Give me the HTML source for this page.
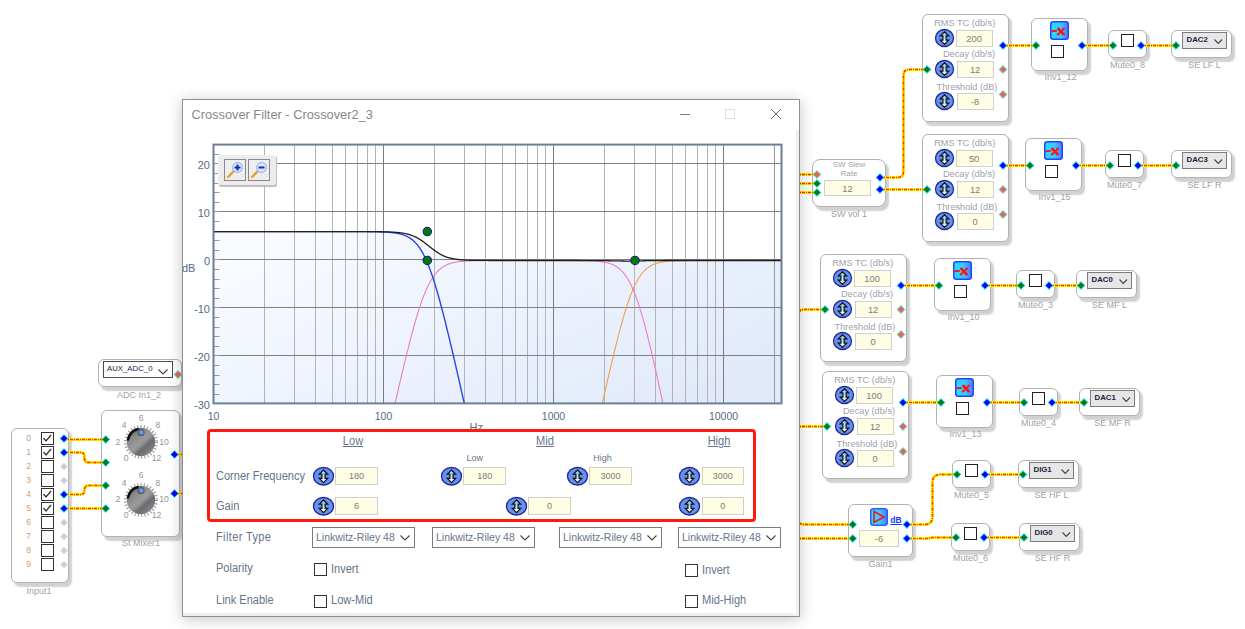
<!DOCTYPE html>
<html><head><meta charset="utf-8"><style>
html,body{margin:0;padding:0;background:#fff;}
body{width:1245px;height:629px;overflow:hidden;position:relative;font-family:"Liberation Sans", sans-serif;}
.ab{position:absolute;}
.t{position:absolute;white-space:nowrap;}
.blk{position:absolute;box-sizing:border-box;background:#fff;border:1px solid #b2b2b2;border-radius:6px;box-shadow:3px 3.5px 1.5px rgba(0,0,0,0.18);}
.vb{position:absolute;box-sizing:border-box;background:#fffde4;border:1.5px solid #cfcfcf;text-align:center;color:#7c7c7c;}
.dd{position:absolute;border:1px solid #777;overflow:hidden;}
svg{overflow:visible;}
.wy{fill:none;stroke:#ffff00;stroke-width:3;}
.wr{fill:none;stroke:#ff2a00;stroke-width:1.6;stroke-dasharray:3 1 1 1;}
</style></head><body>
<svg width="0" height="0" style="position:absolute"><defs>
<linearGradient id="sg" x1="0" y1="0" x2="0" y2="1"><stop offset="0" stop-color="#7fc8ff"/><stop offset="1" stop-color="#ffffff"/></linearGradient>
<linearGradient id="ig" x1="0" y1="0" x2="1" y2="0"><stop offset="0" stop-color="#20e0ff"/><stop offset="0.55" stop-color="#3cc8ff"/><stop offset="1" stop-color="#4a7cff"/></linearGradient>
<linearGradient id="kl" x1="0.15" y1="0.1" x2="0.85" y2="0.9"><stop offset="0" stop-color="#4a4a4a"/><stop offset="0.18" stop-color="#868686"/><stop offset="0.5" stop-color="#9c9c9c"/><stop offset="0.6" stop-color="#8c8c8c"/><stop offset="0.7" stop-color="#6a6a72"/><stop offset="0.9" stop-color="#7a7a80"/><stop offset="1" stop-color="#a8a8a8"/></linearGradient>
<radialGradient id="kg" cx="0.65" cy="0.3" r="0.85"><stop offset="0" stop-color="#a8a8a8"/><stop offset="0.5" stop-color="#6a6a6a"/><stop offset="1" stop-color="#1e1e1e"/></radialGradient>
</defs></svg>
<div class="blk" style="left:11px;top:428px;width:58px;height:155px;"></div>
<div class="t" style="left:-21px;top:582px;width:120px;height:18px;line-height:18px;text-align:center;font-size:9px;color:#a0a2aa;font-weight:normal;">Input1</div>
<div class="t" style="left:-31.3px;top:430.4px;width:120px;height:17.0px;line-height:17.0px;text-align:center;font-size:8.5px;color:#9aa4b4;font-weight:normal;">0</div>
<svg class="ab" style="left:41px;top:432.4px" width="13" height="13"><rect x="0.5" y="0.5" width="12" height="12" fill="#fff" stroke="#333" stroke-width="1"/><path d="M2.5,6.0 L5.04,9 L10,3" fill="none" stroke="#333" stroke-width="1.3"/></svg>
<div class="t" style="left:-31.3px;top:444.4px;width:120px;height:17.0px;line-height:17.0px;text-align:center;font-size:8.5px;color:#9aa4b4;font-weight:normal;">1</div>
<svg class="ab" style="left:41px;top:446.4px" width="13" height="13"><rect x="0.5" y="0.5" width="12" height="12" fill="#fff" stroke="#333" stroke-width="1"/><path d="M2.5,6.0 L5.04,9 L10,3" fill="none" stroke="#333" stroke-width="1.3"/></svg>
<div class="t" style="left:-31.3px;top:458.4px;width:120px;height:17.0px;line-height:17.0px;text-align:center;font-size:8.5px;color:#dc9a64;font-weight:normal;">2</div>
<svg class="ab" style="left:41px;top:460.4px" width="13" height="13"><rect x="0.5" y="0.5" width="12" height="12" fill="#fff" stroke="#333" stroke-width="1"/></svg>
<div class="t" style="left:-31.3px;top:472.4px;width:120px;height:17.0px;line-height:17.0px;text-align:center;font-size:8.5px;color:#dc9a64;font-weight:normal;">3</div>
<svg class="ab" style="left:41px;top:474.4px" width="13" height="13"><rect x="0.5" y="0.5" width="12" height="12" fill="#fff" stroke="#333" stroke-width="1"/></svg>
<div class="t" style="left:-31.3px;top:486.4px;width:120px;height:17.0px;line-height:17.0px;text-align:center;font-size:8.5px;color:#dc9a64;font-weight:normal;">4</div>
<svg class="ab" style="left:41px;top:488.4px" width="13" height="13"><rect x="0.5" y="0.5" width="12" height="12" fill="#fff" stroke="#333" stroke-width="1"/><path d="M2.5,6.0 L5.04,9 L10,3" fill="none" stroke="#333" stroke-width="1.3"/></svg>
<div class="t" style="left:-31.3px;top:500.4px;width:120px;height:17.0px;line-height:17.0px;text-align:center;font-size:8.5px;color:#dc9a64;font-weight:normal;">5</div>
<svg class="ab" style="left:41px;top:502.4px" width="13" height="13"><rect x="0.5" y="0.5" width="12" height="12" fill="#fff" stroke="#333" stroke-width="1"/><path d="M2.5,6.0 L5.04,9 L10,3" fill="none" stroke="#333" stroke-width="1.3"/></svg>
<div class="t" style="left:-31.3px;top:514.4px;width:120px;height:17.0px;line-height:17.0px;text-align:center;font-size:8.5px;color:#dc9a64;font-weight:normal;">6</div>
<svg class="ab" style="left:41px;top:516.4px" width="13" height="13"><rect x="0.5" y="0.5" width="12" height="12" fill="#fff" stroke="#333" stroke-width="1"/></svg>
<div class="t" style="left:-31.3px;top:528.4px;width:120px;height:17.0px;line-height:17.0px;text-align:center;font-size:8.5px;color:#dc9a64;font-weight:normal;">7</div>
<svg class="ab" style="left:41px;top:530.4px" width="13" height="13"><rect x="0.5" y="0.5" width="12" height="12" fill="#fff" stroke="#333" stroke-width="1"/></svg>
<div class="t" style="left:-31.3px;top:542.4px;width:120px;height:17.0px;line-height:17.0px;text-align:center;font-size:8.5px;color:#dc9a64;font-weight:normal;">8</div>
<svg class="ab" style="left:41px;top:544.4px" width="13" height="13"><rect x="0.5" y="0.5" width="12" height="12" fill="#fff" stroke="#333" stroke-width="1"/></svg>
<div class="t" style="left:-31.3px;top:556.4px;width:120px;height:17.0px;line-height:17.0px;text-align:center;font-size:8.5px;color:#dc9a64;font-weight:normal;">9</div>
<svg class="ab" style="left:41px;top:558.4px" width="13" height="13"><rect x="0.5" y="0.5" width="12" height="12" fill="#fff" stroke="#333" stroke-width="1"/></svg>
<div class="blk" style="left:98px;top:359px;width:84px;height:28px;"></div>
<div class="t" style="left:79px;top:385.5px;width:120px;height:18px;line-height:18px;text-align:center;font-size:9px;color:#a0a2aa;font-weight:normal;">ADC In1_2</div>
<div class="dd" style="left:103px;top:361px;width:68px;height:15px;background:#fff;border-color:#4a4a4a"><span style="position:absolute;left:3px;top:0;line-height:13px;font-size:7.8px;color:#1a1a4a">AUX_ADC_0</span><svg style="position:absolute;right:4px;top:7px" width="10" height="6"><path d="M0.5,0.5 L5,5 L9.5,0.5" fill="none" stroke="#444" stroke-width="1.1"/></svg></div>
<div class="blk" style="left:101px;top:410px;width:79px;height:127px;"></div>
<div class="t" style="left:81px;top:534px;width:120px;height:18px;line-height:18px;text-align:center;font-size:9px;color:#a0a2aa;font-weight:normal;">St Mixer1</div>
<svg class="ab" style="left:119.19999999999999px;top:420.2px" width="44" height="44" viewBox="-22 -22 44 44"><circle r="15.6" fill="none" stroke="#9a9a9a" stroke-width="2.8" stroke-dasharray="1.1 2.2"/><circle r="14.2" fill="url(#kl)"/><path d="M-13,-2.5 A13.3,13.3 0 0 1 -3.5,-12.8" fill="none" stroke="#111" stroke-width="2.6" stroke-linecap="round"/><circle cx="0" cy="-9.6" r="3.6" fill="#5c5c5c"/><circle cx="0.3" cy="-9.6" r="2.2" fill="#5a9cff"/></svg>
<div class="t" style="left:66.19999999999999px;top:449.7px;width:120px;height:17.2px;line-height:17.2px;text-align:center;font-size:8.6px;color:#949494;font-weight:normal;">0</div>
<div class="t" style="left:57.79999999999998px;top:433.59999999999997px;width:120px;height:17.2px;line-height:17.2px;text-align:center;font-size:8.6px;color:#949494;font-weight:normal;">2</div>
<div class="t" style="left:64.19999999999999px;top:416.9px;width:120px;height:17.2px;line-height:17.2px;text-align:center;font-size:8.6px;color:#949494;font-weight:normal;">4</div>
<div class="t" style="left:81.19999999999999px;top:409.7px;width:120px;height:17.2px;line-height:17.2px;text-align:center;font-size:8.6px;color:#949494;font-weight:normal;">6</div>
<div class="t" style="left:97.79999999999998px;top:416.9px;width:120px;height:17.2px;line-height:17.2px;text-align:center;font-size:8.6px;color:#949494;font-weight:normal;">8</div>
<div class="t" style="left:104.0px;top:433.59999999999997px;width:120px;height:17.2px;line-height:17.2px;text-align:center;font-size:8.6px;color:#949494;font-weight:normal;">10</div>
<div class="t" style="left:96.5px;top:449.7px;width:120px;height:17.2px;line-height:17.2px;text-align:center;font-size:8.6px;color:#949494;font-weight:normal;">12</div>
<svg class="ab" style="left:119.19999999999999px;top:477.8px" width="44" height="44" viewBox="-22 -22 44 44"><circle r="15.6" fill="none" stroke="#9a9a9a" stroke-width="2.8" stroke-dasharray="1.1 2.2"/><circle r="14.2" fill="url(#kl)"/><path d="M-13,-2.5 A13.3,13.3 0 0 1 -3.5,-12.8" fill="none" stroke="#111" stroke-width="2.6" stroke-linecap="round"/><circle cx="0" cy="-9.6" r="3.6" fill="#5c5c5c"/><circle cx="0.3" cy="-9.6" r="2.2" fill="#5a9cff"/></svg>
<div class="t" style="left:66.19999999999999px;top:507.29999999999995px;width:120px;height:17.2px;line-height:17.2px;text-align:center;font-size:8.6px;color:#949494;font-weight:normal;">0</div>
<div class="t" style="left:57.79999999999998px;top:491.2px;width:120px;height:17.2px;line-height:17.2px;text-align:center;font-size:8.6px;color:#949494;font-weight:normal;">2</div>
<div class="t" style="left:64.19999999999999px;top:474.5px;width:120px;height:17.2px;line-height:17.2px;text-align:center;font-size:8.6px;color:#949494;font-weight:normal;">4</div>
<div class="t" style="left:81.19999999999999px;top:467.3px;width:120px;height:17.2px;line-height:17.2px;text-align:center;font-size:8.6px;color:#949494;font-weight:normal;">6</div>
<div class="t" style="left:97.79999999999998px;top:474.5px;width:120px;height:17.2px;line-height:17.2px;text-align:center;font-size:8.6px;color:#949494;font-weight:normal;">8</div>
<div class="t" style="left:104.0px;top:491.2px;width:120px;height:17.2px;line-height:17.2px;text-align:center;font-size:8.6px;color:#949494;font-weight:normal;">10</div>
<div class="t" style="left:96.5px;top:507.29999999999995px;width:120px;height:17.2px;line-height:17.2px;text-align:center;font-size:8.6px;color:#949494;font-weight:normal;">12</div>
<div class="blk" style="left:812px;top:159px;width:74px;height:48px;border-radius:8px;"></div>
<div class="t" style="left:789px;top:157px;width:120px;height:16px;line-height:16px;text-align:center;font-size:8px;color:#a0a2aa;font-weight:normal;">SW Slew</div>
<div class="t" style="left:789px;top:166px;width:120px;height:16px;line-height:16px;text-align:center;font-size:8px;color:#a0a2aa;font-weight:normal;">Rate</div>
<div class="vb" style="left:824px;top:179.5px;width:47px;height:16.5px;line-height:16.5px;font-size:9.3px">12</div>
<div class="t" style="left:789px;top:204.5px;width:120px;height:18px;line-height:18px;text-align:center;font-size:9px;color:#a0a2aa;font-weight:normal;">SW vol 1</div>
<div class="blk" style="left:922px;top:14px;width:87px;height:108px;"></div>
<div class="t" style="left:904.7px;top:14.0px;width:120px;height:18.4px;line-height:18.4px;text-align:center;font-size:9.2px;color:#a0a2aa;font-weight:normal;">RMS TC (db/s)</div>
<div class="t" style="left:909px;top:45.0px;width:120px;height:18.4px;line-height:18.4px;text-align:center;font-size:9.2px;color:#a0a2aa;font-weight:normal;">Decay (db/s)</div>
<div class="t" style="left:907px;top:77.8px;width:120px;height:18.4px;line-height:18.4px;text-align:center;font-size:9.2px;color:#a0a2aa;font-weight:normal;">Threshold (dB)</div>
<svg class="ab" style="left:933.8px;top:28.299999999999997px" width="21" height="20" viewBox="-10.5 -10.0 21 20"><ellipse cx="0" cy="0" rx="9.0" ry="8.5" fill="#6792ea" stroke="#1c24a0" stroke-width="1.3"/><path d="M0,-6.2 L4.2,-2.1 L1.6,-2.1 L1.6,2.1 L4.2,2.1 L0,6.3 L-4.2,2.1 L-1.6,2.1 L-1.6,-2.1 L-4.2,-2.1 Z" fill="url(#sg)" stroke="#111" stroke-width="1.2" stroke-linejoin="miter"/></svg>
<div class="vb" style="left:955.6px;top:29.699999999999996px;width:37px;height:17px;line-height:17px;font-size:9.3px">200</div>
<svg class="ab" style="left:934.4px;top:59.400000000000006px" width="21" height="20" viewBox="-10.5 -10.0 21 20"><ellipse cx="0" cy="0" rx="9.0" ry="8.5" fill="#6792ea" stroke="#1c24a0" stroke-width="1.3"/><path d="M0,-6.2 L4.2,-2.1 L1.6,-2.1 L1.6,2.1 L4.2,2.1 L0,6.3 L-4.2,2.1 L-1.6,2.1 L-1.6,-2.1 L-4.2,-2.1 Z" fill="url(#sg)" stroke="#111" stroke-width="1.2" stroke-linejoin="miter"/></svg>
<div class="vb" style="left:956.6px;top:60.800000000000004px;width:37px;height:17px;line-height:17px;font-size:9.3px">12</div>
<svg class="ab" style="left:934.4px;top:91.4px" width="21" height="20" viewBox="-10.5 -10.0 21 20"><ellipse cx="0" cy="0" rx="9.0" ry="8.5" fill="#6792ea" stroke="#1c24a0" stroke-width="1.3"/><path d="M0,-6.2 L4.2,-2.1 L1.6,-2.1 L1.6,2.1 L4.2,2.1 L0,6.3 L-4.2,2.1 L-1.6,2.1 L-1.6,-2.1 L-4.2,-2.1 Z" fill="url(#sg)" stroke="#111" stroke-width="1.2" stroke-linejoin="miter"/></svg>
<div class="vb" style="left:956.6px;top:92.80000000000001px;width:37px;height:17px;line-height:17px;font-size:9.3px">-8</div>
<div class="blk" style="left:922px;top:134px;width:87px;height:108px;"></div>
<div class="t" style="left:904.7px;top:134.0px;width:120px;height:18.4px;line-height:18.4px;text-align:center;font-size:9.2px;color:#a0a2aa;font-weight:normal;">RMS TC (db/s)</div>
<div class="t" style="left:909px;top:165.0px;width:120px;height:18.4px;line-height:18.4px;text-align:center;font-size:9.2px;color:#a0a2aa;font-weight:normal;">Decay (db/s)</div>
<div class="t" style="left:907px;top:197.8px;width:120px;height:18.4px;line-height:18.4px;text-align:center;font-size:9.2px;color:#a0a2aa;font-weight:normal;">Threshold (dB)</div>
<svg class="ab" style="left:933.8px;top:148.3px" width="21" height="20" viewBox="-10.5 -10.0 21 20"><ellipse cx="0" cy="0" rx="9.0" ry="8.5" fill="#6792ea" stroke="#1c24a0" stroke-width="1.3"/><path d="M0,-6.2 L4.2,-2.1 L1.6,-2.1 L1.6,2.1 L4.2,2.1 L0,6.3 L-4.2,2.1 L-1.6,2.1 L-1.6,-2.1 L-4.2,-2.1 Z" fill="url(#sg)" stroke="#111" stroke-width="1.2" stroke-linejoin="miter"/></svg>
<div class="vb" style="left:955.6px;top:149.70000000000002px;width:37px;height:17px;line-height:17px;font-size:9.3px">50</div>
<svg class="ab" style="left:934.4px;top:179.4px" width="21" height="20" viewBox="-10.5 -10.0 21 20"><ellipse cx="0" cy="0" rx="9.0" ry="8.5" fill="#6792ea" stroke="#1c24a0" stroke-width="1.3"/><path d="M0,-6.2 L4.2,-2.1 L1.6,-2.1 L1.6,2.1 L4.2,2.1 L0,6.3 L-4.2,2.1 L-1.6,2.1 L-1.6,-2.1 L-4.2,-2.1 Z" fill="url(#sg)" stroke="#111" stroke-width="1.2" stroke-linejoin="miter"/></svg>
<div class="vb" style="left:956.6px;top:180.8px;width:37px;height:17px;line-height:17px;font-size:9.3px">12</div>
<svg class="ab" style="left:934.4px;top:211.4px" width="21" height="20" viewBox="-10.5 -10.0 21 20"><ellipse cx="0" cy="0" rx="9.0" ry="8.5" fill="#6792ea" stroke="#1c24a0" stroke-width="1.3"/><path d="M0,-6.2 L4.2,-2.1 L1.6,-2.1 L1.6,2.1 L4.2,2.1 L0,6.3 L-4.2,2.1 L-1.6,2.1 L-1.6,-2.1 L-4.2,-2.1 Z" fill="url(#sg)" stroke="#111" stroke-width="1.2" stroke-linejoin="miter"/></svg>
<div class="vb" style="left:956.6px;top:212.8px;width:37px;height:17px;line-height:17px;font-size:9.3px">0</div>
<div class="blk" style="left:820px;top:254px;width:87px;height:108px;"></div>
<div class="t" style="left:802.7px;top:254.0px;width:120px;height:18.4px;line-height:18.4px;text-align:center;font-size:9.2px;color:#a0a2aa;font-weight:normal;">RMS TC (db/s)</div>
<div class="t" style="left:807px;top:285.0px;width:120px;height:18.4px;line-height:18.4px;text-align:center;font-size:9.2px;color:#a0a2aa;font-weight:normal;">Decay (db/s)</div>
<div class="t" style="left:805px;top:317.8px;width:120px;height:18.4px;line-height:18.4px;text-align:center;font-size:9.2px;color:#a0a2aa;font-weight:normal;">Threshold (dB)</div>
<svg class="ab" style="left:831.8px;top:268.3px" width="21" height="20" viewBox="-10.5 -10.0 21 20"><ellipse cx="0" cy="0" rx="9.0" ry="8.5" fill="#6792ea" stroke="#1c24a0" stroke-width="1.3"/><path d="M0,-6.2 L4.2,-2.1 L1.6,-2.1 L1.6,2.1 L4.2,2.1 L0,6.3 L-4.2,2.1 L-1.6,2.1 L-1.6,-2.1 L-4.2,-2.1 Z" fill="url(#sg)" stroke="#111" stroke-width="1.2" stroke-linejoin="miter"/></svg>
<div class="vb" style="left:853.6px;top:269.7px;width:37px;height:17px;line-height:17px;font-size:9.3px">100</div>
<svg class="ab" style="left:832.4px;top:299.4px" width="21" height="20" viewBox="-10.5 -10.0 21 20"><ellipse cx="0" cy="0" rx="9.0" ry="8.5" fill="#6792ea" stroke="#1c24a0" stroke-width="1.3"/><path d="M0,-6.2 L4.2,-2.1 L1.6,-2.1 L1.6,2.1 L4.2,2.1 L0,6.3 L-4.2,2.1 L-1.6,2.1 L-1.6,-2.1 L-4.2,-2.1 Z" fill="url(#sg)" stroke="#111" stroke-width="1.2" stroke-linejoin="miter"/></svg>
<div class="vb" style="left:854.6px;top:300.79999999999995px;width:37px;height:17px;line-height:17px;font-size:9.3px">12</div>
<svg class="ab" style="left:832.4px;top:331.4px" width="21" height="20" viewBox="-10.5 -10.0 21 20"><ellipse cx="0" cy="0" rx="9.0" ry="8.5" fill="#6792ea" stroke="#1c24a0" stroke-width="1.3"/><path d="M0,-6.2 L4.2,-2.1 L1.6,-2.1 L1.6,2.1 L4.2,2.1 L0,6.3 L-4.2,2.1 L-1.6,2.1 L-1.6,-2.1 L-4.2,-2.1 Z" fill="url(#sg)" stroke="#111" stroke-width="1.2" stroke-linejoin="miter"/></svg>
<div class="vb" style="left:854.6px;top:332.79999999999995px;width:37px;height:17px;line-height:17px;font-size:9.3px">0</div>
<div class="blk" style="left:822px;top:371px;width:87px;height:108px;"></div>
<div class="t" style="left:804.7px;top:371.0px;width:120px;height:18.4px;line-height:18.4px;text-align:center;font-size:9.2px;color:#a0a2aa;font-weight:normal;">RMS TC (db/s)</div>
<div class="t" style="left:809px;top:402.0px;width:120px;height:18.4px;line-height:18.4px;text-align:center;font-size:9.2px;color:#a0a2aa;font-weight:normal;">Decay (db/s)</div>
<div class="t" style="left:807px;top:434.8px;width:120px;height:18.4px;line-height:18.4px;text-align:center;font-size:9.2px;color:#a0a2aa;font-weight:normal;">Threshold (dB)</div>
<svg class="ab" style="left:833.8px;top:385.3px" width="21" height="20" viewBox="-10.5 -10.0 21 20"><ellipse cx="0" cy="0" rx="9.0" ry="8.5" fill="#6792ea" stroke="#1c24a0" stroke-width="1.3"/><path d="M0,-6.2 L4.2,-2.1 L1.6,-2.1 L1.6,2.1 L4.2,2.1 L0,6.3 L-4.2,2.1 L-1.6,2.1 L-1.6,-2.1 L-4.2,-2.1 Z" fill="url(#sg)" stroke="#111" stroke-width="1.2" stroke-linejoin="miter"/></svg>
<div class="vb" style="left:855.6px;top:386.7px;width:37px;height:17px;line-height:17px;font-size:9.3px">100</div>
<svg class="ab" style="left:834.4px;top:416.4px" width="21" height="20" viewBox="-10.5 -10.0 21 20"><ellipse cx="0" cy="0" rx="9.0" ry="8.5" fill="#6792ea" stroke="#1c24a0" stroke-width="1.3"/><path d="M0,-6.2 L4.2,-2.1 L1.6,-2.1 L1.6,2.1 L4.2,2.1 L0,6.3 L-4.2,2.1 L-1.6,2.1 L-1.6,-2.1 L-4.2,-2.1 Z" fill="url(#sg)" stroke="#111" stroke-width="1.2" stroke-linejoin="miter"/></svg>
<div class="vb" style="left:856.6px;top:417.79999999999995px;width:37px;height:17px;line-height:17px;font-size:9.3px">12</div>
<svg class="ab" style="left:834.4px;top:448.4px" width="21" height="20" viewBox="-10.5 -10.0 21 20"><ellipse cx="0" cy="0" rx="9.0" ry="8.5" fill="#6792ea" stroke="#1c24a0" stroke-width="1.3"/><path d="M0,-6.2 L4.2,-2.1 L1.6,-2.1 L1.6,2.1 L4.2,2.1 L0,6.3 L-4.2,2.1 L-1.6,2.1 L-1.6,-2.1 L-4.2,-2.1 Z" fill="url(#sg)" stroke="#111" stroke-width="1.2" stroke-linejoin="miter"/></svg>
<div class="vb" style="left:856.6px;top:449.79999999999995px;width:37px;height:17px;line-height:17px;font-size:9.3px">0</div>
<div class="blk" style="left:1031px;top:18px;width:57px;height:53px;"></div>
<svg class="ab" style="left:1049.6px;top:20.8px" width="19" height="19"><rect x="0.75" y="0.75" width="17.5" height="17.5" rx="2.5" fill="url(#ig)" stroke="#2244ff" stroke-width="1.5"/><path d="M1.4,10.2 L6.8,9.9" stroke="#ff1010" stroke-width="1.9"/><path d="M8,7.6 L13.8,13.4" stroke="#ff1010" stroke-width="2.6"/><path d="M14.2,7.6 L7.8,13.4" stroke="#ff1010" stroke-width="1.8"/><path d="M7.2,7.4 H10 M12.4,7.4 H15.2 M6.6,13.6 H9.4 M12,13.6 H15" stroke="#ff1010" stroke-width="1.1"/></svg>
<svg class="ab" style="left:1051px;top:45px" width="13" height="13"><rect x="0.5" y="0.5" width="12" height="12" fill="#fff" stroke="#222" stroke-width="1"/></svg>
<div class="t" style="left:1000.5px;top:68.3px;width:120px;height:18px;line-height:18px;text-align:center;font-size:9px;color:#a0a2aa;font-weight:normal;">Inv1_12</div>
<div class="blk" style="left:1025px;top:138px;width:57px;height:53px;"></div>
<svg class="ab" style="left:1043.6px;top:140.8px" width="19" height="19"><rect x="0.75" y="0.75" width="17.5" height="17.5" rx="2.5" fill="url(#ig)" stroke="#2244ff" stroke-width="1.5"/><path d="M1.4,10.2 L6.8,9.9" stroke="#ff1010" stroke-width="1.9"/><path d="M8,7.6 L13.8,13.4" stroke="#ff1010" stroke-width="2.6"/><path d="M14.2,7.6 L7.8,13.4" stroke="#ff1010" stroke-width="1.8"/><path d="M7.2,7.4 H10 M12.4,7.4 H15.2 M6.6,13.6 H9.4 M12,13.6 H15" stroke="#ff1010" stroke-width="1.1"/></svg>
<svg class="ab" style="left:1045px;top:165px" width="13" height="13"><rect x="0.5" y="0.5" width="12" height="12" fill="#fff" stroke="#222" stroke-width="1"/></svg>
<div class="t" style="left:994.5px;top:188.3px;width:120px;height:18px;line-height:18px;text-align:center;font-size:9px;color:#a0a2aa;font-weight:normal;">Inv1_15</div>
<div class="blk" style="left:934px;top:258px;width:57px;height:53px;"></div>
<svg class="ab" style="left:952.6px;top:260.8px" width="19" height="19"><rect x="0.75" y="0.75" width="17.5" height="17.5" rx="2.5" fill="url(#ig)" stroke="#2244ff" stroke-width="1.5"/><path d="M1.4,10.2 L6.8,9.9" stroke="#ff1010" stroke-width="1.9"/><path d="M8,7.6 L13.8,13.4" stroke="#ff1010" stroke-width="2.6"/><path d="M14.2,7.6 L7.8,13.4" stroke="#ff1010" stroke-width="1.8"/><path d="M7.2,7.4 H10 M12.4,7.4 H15.2 M6.6,13.6 H9.4 M12,13.6 H15" stroke="#ff1010" stroke-width="1.1"/></svg>
<svg class="ab" style="left:954px;top:285px" width="13" height="13"><rect x="0.5" y="0.5" width="12" height="12" fill="#fff" stroke="#222" stroke-width="1"/></svg>
<div class="t" style="left:903.5px;top:308.3px;width:120px;height:18px;line-height:18px;text-align:center;font-size:9px;color:#a0a2aa;font-weight:normal;">Inv1_10</div>
<div class="blk" style="left:936px;top:375px;width:57px;height:53px;"></div>
<svg class="ab" style="left:954.6px;top:377.8px" width="19" height="19"><rect x="0.75" y="0.75" width="17.5" height="17.5" rx="2.5" fill="url(#ig)" stroke="#2244ff" stroke-width="1.5"/><path d="M1.4,10.2 L6.8,9.9" stroke="#ff1010" stroke-width="1.9"/><path d="M8,7.6 L13.8,13.4" stroke="#ff1010" stroke-width="2.6"/><path d="M14.2,7.6 L7.8,13.4" stroke="#ff1010" stroke-width="1.8"/><path d="M7.2,7.4 H10 M12.4,7.4 H15.2 M6.6,13.6 H9.4 M12,13.6 H15" stroke="#ff1010" stroke-width="1.1"/></svg>
<svg class="ab" style="left:956px;top:402px" width="13" height="13"><rect x="0.5" y="0.5" width="12" height="12" fill="#fff" stroke="#222" stroke-width="1"/></svg>
<div class="t" style="left:905.5px;top:425.3px;width:120px;height:18px;line-height:18px;text-align:center;font-size:9px;color:#a0a2aa;font-weight:normal;">Inv1_13</div>
<div class="blk" style="left:1108px;top:30px;width:39px;height:28px;"></div>
<svg class="ab" style="left:1121px;top:34px" width="13" height="13"><rect x="0.5" y="0.5" width="12" height="12" fill="#fff" stroke="#222" stroke-width="1"/></svg>
<div class="t" style="left:1067.5px;top:56px;width:120px;height:18px;line-height:18px;text-align:center;font-size:9px;color:#a0a2aa;font-weight:normal;">Mute0_8</div>
<div class="blk" style="left:1171px;top:30px;width:61px;height:28px;"></div>
<div class="dd" style="left:1182px;top:32px;width:43px;height:15px;background:#e6e6e6;border:1px solid #7c7c7c"><span style="position:absolute;left:3.5px;top:-0.3px;line-height:13px;font-size:7.8px;font-weight:bold;color:#1c1c40">DAC2</span><svg style="position:absolute;right:4px;top:6.45px" width="8.5" height="5.5"><path d="M0.5,0.5 L4.25,4.5 L8.0,0.5" fill="none" stroke="#444" stroke-width="1.1"/></svg></div>
<div class="t" style="left:1144.5px;top:55.5px;width:120px;height:18px;line-height:18px;text-align:center;font-size:9px;color:#a0a2aa;font-weight:normal;">SE LF L</div>
<div class="blk" style="left:1105px;top:150px;width:39px;height:28px;"></div>
<svg class="ab" style="left:1118px;top:154px" width="13" height="13"><rect x="0.5" y="0.5" width="12" height="12" fill="#fff" stroke="#222" stroke-width="1"/></svg>
<div class="t" style="left:1064.5px;top:176px;width:120px;height:18px;line-height:18px;text-align:center;font-size:9px;color:#a0a2aa;font-weight:normal;">Mute0_7</div>
<div class="blk" style="left:1171px;top:150px;width:61px;height:28px;"></div>
<div class="dd" style="left:1182px;top:152px;width:43px;height:15px;background:#e6e6e6;border:1px solid #7c7c7c"><span style="position:absolute;left:3.5px;top:-0.3px;line-height:13px;font-size:7.8px;font-weight:bold;color:#1c1c40">DAC3</span><svg style="position:absolute;right:4px;top:6.45px" width="8.5" height="5.5"><path d="M0.5,0.5 L4.25,4.5 L8.0,0.5" fill="none" stroke="#444" stroke-width="1.1"/></svg></div>
<div class="t" style="left:1144.5px;top:175.5px;width:120px;height:18px;line-height:18px;text-align:center;font-size:9px;color:#a0a2aa;font-weight:normal;">SE LF R</div>
<div class="blk" style="left:1016px;top:270px;width:39px;height:28px;"></div>
<svg class="ab" style="left:1029px;top:274px" width="13" height="13"><rect x="0.5" y="0.5" width="12" height="12" fill="#fff" stroke="#222" stroke-width="1"/></svg>
<div class="t" style="left:975.5px;top:296px;width:120px;height:18px;line-height:18px;text-align:center;font-size:9px;color:#a0a2aa;font-weight:normal;">Mute0_3</div>
<div class="blk" style="left:1076px;top:270px;width:61px;height:28px;"></div>
<div class="dd" style="left:1087px;top:272px;width:43px;height:15px;background:#e6e6e6;border:1px solid #7c7c7c"><span style="position:absolute;left:3.5px;top:-0.3px;line-height:13px;font-size:7.8px;font-weight:bold;color:#1c1c40">DAC0</span><svg style="position:absolute;right:4px;top:6.45px" width="8.5" height="5.5"><path d="M0.5,0.5 L4.25,4.5 L8.0,0.5" fill="none" stroke="#444" stroke-width="1.1"/></svg></div>
<div class="t" style="left:1049.5px;top:295.5px;width:120px;height:18px;line-height:18px;text-align:center;font-size:9px;color:#a0a2aa;font-weight:normal;">SE MF L</div>
<div class="blk" style="left:1019px;top:388px;width:39px;height:28px;"></div>
<svg class="ab" style="left:1032px;top:392px" width="13" height="13"><rect x="0.5" y="0.5" width="12" height="12" fill="#fff" stroke="#222" stroke-width="1"/></svg>
<div class="t" style="left:978.5px;top:414px;width:120px;height:18px;line-height:18px;text-align:center;font-size:9px;color:#a0a2aa;font-weight:normal;">Mute0_4</div>
<div class="blk" style="left:1079px;top:388px;width:61px;height:28px;"></div>
<div class="dd" style="left:1090px;top:390px;width:43px;height:15px;background:#e6e6e6;border:1px solid #7c7c7c"><span style="position:absolute;left:3.5px;top:-0.3px;line-height:13px;font-size:7.8px;font-weight:bold;color:#1c1c40">DAC1</span><svg style="position:absolute;right:4px;top:6.45px" width="8.5" height="5.5"><path d="M0.5,0.5 L4.25,4.5 L8.0,0.5" fill="none" stroke="#444" stroke-width="1.1"/></svg></div>
<div class="t" style="left:1052.5px;top:413.5px;width:120px;height:18px;line-height:18px;text-align:center;font-size:9px;color:#a0a2aa;font-weight:normal;">SE MF R</div>
<div class="blk" style="left:952px;top:460px;width:39px;height:28px;"></div>
<svg class="ab" style="left:965px;top:464px" width="13" height="13"><rect x="0.5" y="0.5" width="12" height="12" fill="#fff" stroke="#222" stroke-width="1"/></svg>
<div class="t" style="left:911.5px;top:486px;width:120px;height:18px;line-height:18px;text-align:center;font-size:9px;color:#a0a2aa;font-weight:normal;">Mute0_5</div>
<div class="blk" style="left:1018px;top:460px;width:61px;height:28px;"></div>
<div class="dd" style="left:1029px;top:462px;width:43px;height:15px;background:#e6e6e6;border:1px solid #7c7c7c"><span style="position:absolute;left:3.5px;top:-0.3px;line-height:13px;font-size:7.8px;font-weight:bold;color:#1c1c40">DIG1</span><svg style="position:absolute;right:4px;top:6.45px" width="8.5" height="5.5"><path d="M0.5,0.5 L4.25,4.5 L8.0,0.5" fill="none" stroke="#444" stroke-width="1.1"/></svg></div>
<div class="t" style="left:991.5px;top:485.5px;width:120px;height:18px;line-height:18px;text-align:center;font-size:9px;color:#a0a2aa;font-weight:normal;">SE HF L</div>
<div class="blk" style="left:951px;top:523px;width:39px;height:28px;"></div>
<svg class="ab" style="left:964px;top:527px" width="13" height="13"><rect x="0.5" y="0.5" width="12" height="12" fill="#fff" stroke="#222" stroke-width="1"/></svg>
<div class="t" style="left:910.5px;top:549px;width:120px;height:18px;line-height:18px;text-align:center;font-size:9px;color:#a0a2aa;font-weight:normal;">Mute0_6</div>
<div class="blk" style="left:1019px;top:523px;width:61px;height:28px;"></div>
<div class="dd" style="left:1030px;top:525px;width:43px;height:15px;background:#e6e6e6;border:1px solid #7c7c7c"><span style="position:absolute;left:3.5px;top:-0.3px;line-height:13px;font-size:7.8px;font-weight:bold;color:#1c1c40">DIG0</span><svg style="position:absolute;right:4px;top:6.45px" width="8.5" height="5.5"><path d="M0.5,0.5 L4.25,4.5 L8.0,0.5" fill="none" stroke="#444" stroke-width="1.1"/></svg></div>
<div class="t" style="left:992.5px;top:548.5px;width:120px;height:18px;line-height:18px;text-align:center;font-size:9px;color:#a0a2aa;font-weight:normal;">SE HF R</div>
<div class="blk" style="left:848px;top:504px;width:65px;height:53px;"></div>
<svg class="ab" style="left:870px;top:508px" width="18" height="18"><rect x="0.75" y="0.75" width="16.5" height="16.5" rx="2.5" fill="url(#ig)" stroke="#2a5cff" stroke-width="1.5"/><path d="M4,3.5 L14,9 L4,14.5 Z" fill="none" stroke="#ff1010" stroke-width="1.6"/></svg>
<div class="t" style="left:890.3px;top:512.5px;font-size:8.6px;font-weight:bold;color:#1a3cff;text-decoration:underline;line-height:14px">dB</div>
<div class="vb" style="left:859px;top:529.5px;width:40px;height:17px;line-height:17px;font-size:9.3px">-6</div>
<div class="t" style="left:820.5px;top:555px;width:120px;height:18px;line-height:18px;text-align:center;font-size:9px;color:#a0a2aa;font-weight:normal;">Gain1</div>
<svg class="ab" style="left:0;top:0" width="1245" height="629"><path d="M64,439.5 L105.8,439.5" class="wy"/><path d="M64,452.5 L80.5,452.5 Q84.5,452.5 84.5,456.5 L84.5,458.5 Q84.5,462.5 88.5,462.5 L105.8,462.5" class="wy"/><path d="M64,494.5 L80.5,494.5 Q84.5,494.5 84.5,490.5 L84.5,489.5 Q84.5,485.5 88.5,485.5 L105.8,485.5" class="wy"/><path d="M64,508.5 L105.8,508.5" class="wy"/><path d="M174.5,454.5 L190,454.5" class="wy"/><path d="M174.5,493.5 L190,493.5" class="wy"/><path d="M790,174.5 L817,174.5" class="wy"/><path d="M790,183.5 L817,183.5" class="wy"/><path d="M790,192.5 L817,192.5" class="wy"/><path d="M880,177.5 L897.5,177.5 Q903.5,177.5 903.5,171.5 L903.5,75.5 Q903.5,69.5 909.5,69.5 L927,69.5" class="wy"/><path d="M880,189.5 L927,189.5" class="wy"/><path d="M799,312 Q800,309.5 804,309.5 L825,309.5" class="wy"/><path d="M790,426.5 L827,426.5" class="wy"/><path d="M797.5,505 L797.5,517.5 Q797.5,524.5 804.5,524.5 L853,524.5" class="wy"/><path d="M790,538.5 L853,538.5" class="wy"/><path d="M1003,45.5 L1036,45.5" class="wy"/><path d="M1082,45.5 L1113,45.5" class="wy"/><path d="M1141,45.5 L1176,45.5" class="wy"/><path d="M1003,165.5 L1030,165.5" class="wy"/><path d="M1076,165.5 L1110,165.5" class="wy"/><path d="M1138,165.5 L1176,165.5" class="wy"/><path d="M901,285.5 L939,285.5" class="wy"/><path d="M985,285.5 L1021,285.5" class="wy"/><path d="M1049,285.5 L1081,285.5" class="wy"/><path d="M903,402.5 L941,402.5" class="wy"/><path d="M987,402.5 L1024,402.5" class="wy"/><path d="M1052,402.5 L1084,402.5" class="wy"/><path d="M906.9,524.5 L924.5,524.5 Q932.5,524.5 932.5,516.5 L932.5,482.5 Q932.5,474.5 940.5,474.5 L957,474.5" class="wy"/><path d="M906.9,538.5 L929,538.5 L932,537.5 L956,537.5" class="wy"/><path d="M985,474.5 L1023,474.5" class="wy"/><path d="M984,537.5 L1024,537.5" class="wy"/><path d="M64,439.5 L105.8,439.5" class="wr"/><path d="M64,452.5 L80.5,452.5 Q84.5,452.5 84.5,456.5 L84.5,458.5 Q84.5,462.5 88.5,462.5 L105.8,462.5" class="wr"/><path d="M64,494.5 L80.5,494.5 Q84.5,494.5 84.5,490.5 L84.5,489.5 Q84.5,485.5 88.5,485.5 L105.8,485.5" class="wr"/><path d="M64,508.5 L105.8,508.5" class="wr"/><path d="M174.5,454.5 L190,454.5" class="wr"/><path d="M174.5,493.5 L190,493.5" class="wr"/><path d="M790,174.5 L817,174.5" class="wr"/><path d="M790,183.5 L817,183.5" class="wr"/><path d="M790,192.5 L817,192.5" class="wr"/><path d="M880,177.5 L897.5,177.5 Q903.5,177.5 903.5,171.5 L903.5,75.5 Q903.5,69.5 909.5,69.5 L927,69.5" class="wr"/><path d="M880,189.5 L927,189.5" class="wr"/><path d="M799,312 Q800,309.5 804,309.5 L825,309.5" class="wr"/><path d="M790,426.5 L827,426.5" class="wr"/><path d="M797.5,505 L797.5,517.5 Q797.5,524.5 804.5,524.5 L853,524.5" class="wr"/><path d="M790,538.5 L853,538.5" class="wr"/><path d="M1003,45.5 L1036,45.5" class="wr"/><path d="M1082,45.5 L1113,45.5" class="wr"/><path d="M1141,45.5 L1176,45.5" class="wr"/><path d="M1003,165.5 L1030,165.5" class="wr"/><path d="M1076,165.5 L1110,165.5" class="wr"/><path d="M1138,165.5 L1176,165.5" class="wr"/><path d="M901,285.5 L939,285.5" class="wr"/><path d="M985,285.5 L1021,285.5" class="wr"/><path d="M1049,285.5 L1081,285.5" class="wr"/><path d="M903,402.5 L941,402.5" class="wr"/><path d="M987,402.5 L1024,402.5" class="wr"/><path d="M1052,402.5 L1084,402.5" class="wr"/><path d="M906.9,524.5 L924.5,524.5 Q932.5,524.5 932.5,516.5 L932.5,482.5 Q932.5,474.5 940.5,474.5 L957,474.5" class="wr"/><path d="M906.9,538.5 L929,538.5 L932,537.5 L956,537.5" class="wr"/><path d="M985,474.5 L1023,474.5" class="wr"/><path d="M984,537.5 L1024,537.5" class="wr"/><path d="M64,434.6 L67.9,438.5 L64,442.4 L60.1,438.5 Z" fill="#0000ff" stroke="#2ef0f4" stroke-width="1"/><path d="M64,448.6 L67.9,452.5 L64,456.4 L60.1,452.5 Z" fill="#0000ff" stroke="#2ef0f4" stroke-width="1"/><path d="M64,463.1 L67.4,466.5 L64,469.9 L60.6,466.5 Z" fill="#dcc4dc" stroke="#ecdcec" stroke-width="0.8"/><path d="M64,477.1 L67.4,480.5 L64,483.9 L60.6,480.5 Z" fill="#dcc4dc" stroke="#ecdcec" stroke-width="0.8"/><path d="M64,490.6 L67.9,494.5 L64,498.4 L60.1,494.5 Z" fill="#0000ff" stroke="#2ef0f4" stroke-width="1"/><path d="M64,504.6 L67.9,508.5 L64,512.4 L60.1,508.5 Z" fill="#0000ff" stroke="#2ef0f4" stroke-width="1"/><path d="M64,519.1 L67.4,522.5 L64,525.9 L60.6,522.5 Z" fill="#dcc4dc" stroke="#ecdcec" stroke-width="0.8"/><path d="M64,533.1 L67.4,536.5 L64,539.9 L60.6,536.5 Z" fill="#dcc4dc" stroke="#ecdcec" stroke-width="0.8"/><path d="M64,547.1 L67.4,550.5 L64,553.9 L60.6,550.5 Z" fill="#dcc4dc" stroke="#ecdcec" stroke-width="0.8"/><path d="M64,561.1 L67.4,564.5 L64,567.9 L60.6,564.5 Z" fill="#dcc4dc" stroke="#ecdcec" stroke-width="0.8"/><path d="M178,370.6 L181.9,374.5 L178,378.4 L174.1,374.5 Z" fill="#f0624a" stroke="#2ef0f4" stroke-width="1"/><path d="M105.8,435.6 L109.7,439.5 L105.8,443.4 L101.89999999999999,439.5 Z" fill="#007a1c" stroke="#2ef0f4" stroke-width="1"/><path d="M105.8,458.6 L109.7,462.5 L105.8,466.4 L101.89999999999999,462.5 Z" fill="#007a1c" stroke="#2ef0f4" stroke-width="1"/><path d="M105.8,481.6 L109.7,485.5 L105.8,489.4 L101.89999999999999,485.5 Z" fill="#007a1c" stroke="#2ef0f4" stroke-width="1"/><path d="M105.8,504.6 L109.7,508.5 L105.8,512.4 L101.89999999999999,508.5 Z" fill="#007a1c" stroke="#2ef0f4" stroke-width="1"/><path d="M174.5,450.6 L178.4,454.5 L174.5,458.4 L170.6,454.5 Z" fill="#0000ff" stroke="#2ef0f4" stroke-width="1"/><path d="M174.5,489.6 L178.4,493.5 L174.5,497.4 L170.6,493.5 Z" fill="#0000ff" stroke="#2ef0f4" stroke-width="1"/><path d="M817,170.6 L820.9,174.5 L817,178.4 L813.1,174.5 Z" fill="#f0624a" stroke="#2ef0f4" stroke-width="1"/><path d="M817,179.6 L820.9,183.5 L817,187.4 L813.1,183.5 Z" fill="#007a1c" stroke="#2ef0f4" stroke-width="1"/><path d="M817,188.6 L820.9,192.5 L817,196.4 L813.1,192.5 Z" fill="#007a1c" stroke="#2ef0f4" stroke-width="1"/><path d="M880,173.6 L883.9,177.5 L880,181.4 L876.1,177.5 Z" fill="#0000ff" stroke="#2ef0f4" stroke-width="1"/><path d="M880,185.6 L883.9,189.5 L880,193.4 L876.1,189.5 Z" fill="#0000ff" stroke="#2ef0f4" stroke-width="1"/><path d="M927,65.6 L930.9,69.5 L927,73.4 L923.1,69.5 Z" fill="#007a1c" stroke="#2ef0f4" stroke-width="1"/><path d="M1003,41.6 L1006.9,45.5 L1003,49.4 L999.1,45.5 Z" fill="#0000ff" stroke="#2ef0f4" stroke-width="1"/><path d="M1003,65.6 L1006.9,69.5 L1003,73.4 L999.1,69.5 Z" fill="#f0624a" stroke="#2ef0f4" stroke-width="1"/><path d="M1003,90.6 L1006.9,94.5 L1003,98.4 L999.1,94.5 Z" fill="#f0624a" stroke="#2ef0f4" stroke-width="1"/><path d="M927,185.6 L930.9,189.5 L927,193.4 L923.1,189.5 Z" fill="#007a1c" stroke="#2ef0f4" stroke-width="1"/><path d="M1003,161.6 L1006.9,165.5 L1003,169.4 L999.1,165.5 Z" fill="#0000ff" stroke="#2ef0f4" stroke-width="1"/><path d="M1003,185.6 L1006.9,189.5 L1003,193.4 L999.1,189.5 Z" fill="#f0624a" stroke="#2ef0f4" stroke-width="1"/><path d="M1003,210.6 L1006.9,214.5 L1003,218.4 L999.1,214.5 Z" fill="#f0624a" stroke="#2ef0f4" stroke-width="1"/><path d="M825,305.6 L828.9,309.5 L825,313.4 L821.1,309.5 Z" fill="#007a1c" stroke="#2ef0f4" stroke-width="1"/><path d="M901,281.6 L904.9,285.5 L901,289.4 L897.1,285.5 Z" fill="#0000ff" stroke="#2ef0f4" stroke-width="1"/><path d="M901,305.6 L904.9,309.5 L901,313.4 L897.1,309.5 Z" fill="#f0624a" stroke="#2ef0f4" stroke-width="1"/><path d="M901,330.6 L904.9,334.5 L901,338.4 L897.1,334.5 Z" fill="#f0624a" stroke="#2ef0f4" stroke-width="1"/><path d="M827,422.6 L830.9,426.5 L827,430.4 L823.1,426.5 Z" fill="#007a1c" stroke="#2ef0f4" stroke-width="1"/><path d="M903,398.6 L906.9,402.5 L903,406.4 L899.1,402.5 Z" fill="#0000ff" stroke="#2ef0f4" stroke-width="1"/><path d="M903,422.6 L906.9,426.5 L903,430.4 L899.1,426.5 Z" fill="#f0624a" stroke="#2ef0f4" stroke-width="1"/><path d="M903,447.6 L906.9,451.5 L903,455.4 L899.1,451.5 Z" fill="#f0624a" stroke="#2ef0f4" stroke-width="1"/><path d="M1036,41.6 L1039.9,45.5 L1036,49.4 L1032.1,45.5 Z" fill="#007a1c" stroke="#2ef0f4" stroke-width="1"/><path d="M1082,41.6 L1085.9,45.5 L1082,49.4 L1078.1,45.5 Z" fill="#0000ff" stroke="#2ef0f4" stroke-width="1"/><path d="M1030,161.6 L1033.9,165.5 L1030,169.4 L1026.1,165.5 Z" fill="#007a1c" stroke="#2ef0f4" stroke-width="1"/><path d="M1076,161.6 L1079.9,165.5 L1076,169.4 L1072.1,165.5 Z" fill="#0000ff" stroke="#2ef0f4" stroke-width="1"/><path d="M939,281.6 L942.9,285.5 L939,289.4 L935.1,285.5 Z" fill="#007a1c" stroke="#2ef0f4" stroke-width="1"/><path d="M985,281.6 L988.9,285.5 L985,289.4 L981.1,285.5 Z" fill="#0000ff" stroke="#2ef0f4" stroke-width="1"/><path d="M941,398.6 L944.9,402.5 L941,406.4 L937.1,402.5 Z" fill="#007a1c" stroke="#2ef0f4" stroke-width="1"/><path d="M987,398.6 L990.9,402.5 L987,406.4 L983.1,402.5 Z" fill="#0000ff" stroke="#2ef0f4" stroke-width="1"/><path d="M1113,41.6 L1116.9,45.5 L1113,49.4 L1109.1,45.5 Z" fill="#007a1c" stroke="#2ef0f4" stroke-width="1"/><path d="M1141,41.6 L1144.9,45.5 L1141,49.4 L1137.1,45.5 Z" fill="#0000ff" stroke="#2ef0f4" stroke-width="1"/><path d="M1176,41.6 L1179.9,45.5 L1176,49.4 L1172.1,45.5 Z" fill="#007a1c" stroke="#2ef0f4" stroke-width="1"/><path d="M1110,161.6 L1113.9,165.5 L1110,169.4 L1106.1,165.5 Z" fill="#007a1c" stroke="#2ef0f4" stroke-width="1"/><path d="M1138,161.6 L1141.9,165.5 L1138,169.4 L1134.1,165.5 Z" fill="#0000ff" stroke="#2ef0f4" stroke-width="1"/><path d="M1176,161.6 L1179.9,165.5 L1176,169.4 L1172.1,165.5 Z" fill="#007a1c" stroke="#2ef0f4" stroke-width="1"/><path d="M1021,281.6 L1024.9,285.5 L1021,289.4 L1017.1,285.5 Z" fill="#007a1c" stroke="#2ef0f4" stroke-width="1"/><path d="M1049,281.6 L1052.9,285.5 L1049,289.4 L1045.1,285.5 Z" fill="#0000ff" stroke="#2ef0f4" stroke-width="1"/><path d="M1081,281.6 L1084.9,285.5 L1081,289.4 L1077.1,285.5 Z" fill="#007a1c" stroke="#2ef0f4" stroke-width="1"/><path d="M1024,398.6 L1027.9,402.5 L1024,406.4 L1020.1,402.5 Z" fill="#007a1c" stroke="#2ef0f4" stroke-width="1"/><path d="M1052,398.6 L1055.9,402.5 L1052,406.4 L1048.1,402.5 Z" fill="#0000ff" stroke="#2ef0f4" stroke-width="1"/><path d="M1084,398.6 L1087.9,402.5 L1084,406.4 L1080.1,402.5 Z" fill="#007a1c" stroke="#2ef0f4" stroke-width="1"/><path d="M957,470.6 L960.9,474.5 L957,478.4 L953.1,474.5 Z" fill="#007a1c" stroke="#2ef0f4" stroke-width="1"/><path d="M985,470.6 L988.9,474.5 L985,478.4 L981.1,474.5 Z" fill="#0000ff" stroke="#2ef0f4" stroke-width="1"/><path d="M1023,470.6 L1026.9,474.5 L1023,478.4 L1019.1,474.5 Z" fill="#007a1c" stroke="#2ef0f4" stroke-width="1"/><path d="M956,533.6 L959.9,537.5 L956,541.4 L952.1,537.5 Z" fill="#007a1c" stroke="#2ef0f4" stroke-width="1"/><path d="M984,533.6 L987.9,537.5 L984,541.4 L980.1,537.5 Z" fill="#0000ff" stroke="#2ef0f4" stroke-width="1"/><path d="M1024,533.6 L1027.9,537.5 L1024,541.4 L1020.1,537.5 Z" fill="#007a1c" stroke="#2ef0f4" stroke-width="1"/><path d="M852.8,520.6 L856.6999999999999,524.5 L852.8,528.4 L848.9,524.5 Z" fill="#007a1c" stroke="#2ef0f4" stroke-width="1"/><path d="M852.8,534.6 L856.6999999999999,538.5 L852.8,542.4 L848.9,538.5 Z" fill="#007a1c" stroke="#2ef0f4" stroke-width="1"/><path d="M906.9,520.6 L910.8,524.5 L906.9,528.4 L903.0,524.5 Z" fill="#0000ff" stroke="#2ef0f4" stroke-width="1"/><path d="M906.9,534.6 L910.8,538.5 L906.9,542.4 L903.0,538.5 Z" fill="#0000ff" stroke="#2ef0f4" stroke-width="1"/></svg>
<div class="ab" style="left:182px;top:99px;width:616px;height:516px;background:#fff;border:1px solid #8f8f8f;box-shadow:0 1.5px 14px rgba(0,0,0,0.23)"></div><div class="ab" style="left:183px;top:612.5px;width:616px;height:3.5px;background:#f0f0f0"></div><div class="ab" style="left:796px;top:130px;width:3px;height:483px;background:#f0f0f0"></div><div class="t" style="left:191.5px;top:107px;font-size:12.8px;color:#888888;line-height:16px">Crossover Filter - Crossover2_3</div><div class="ab" style="left:680px;top:114px;width:10px;height:1px;background:#7c7c7c"></div><div class="ab" style="left:725px;top:109px;width:8px;height:8px;border:1px solid #e0e0e0"></div><svg class="ab" style="left:770px;top:108px" width="12" height="12"><path d="M1,1 L11,11 M11,1 L1,11" stroke="#6a6a6a" stroke-width="1"/></svg><svg class="ab" style="left:0;top:0" width="1245" height="629"><defs><linearGradient id="cf" x1="0" y1="0.2" x2="1" y2="0.8"><stop offset="0" stop-color="#f9fbff"/><stop offset="0.5" stop-color="#ecf2fd"/><stop offset="1" stop-color="#e1e9fa"/></linearGradient><clipPath id="pc"><rect x="213.5" y="144.6" width="568.0" height="258.79999999999995"/></clipPath></defs><g clip-path="url(#pc)"><rect x="213.5" y="144.6" width="568.0" height="258.79999999999995" fill="#fff"/><path d="M213.5,403.4 L213.00,231.60 L213.63,231.60 L214.26,231.60 L214.90,231.60 L215.53,231.60 L216.16,231.60 L216.79,231.60 L217.42,231.60 L218.05,231.60 L218.69,231.60 L219.32,231.60 L219.95,231.60 L220.58,231.60 L221.21,231.60 L221.85,231.60 L222.48,231.60 L223.11,231.60 L223.74,231.60 L224.37,231.60 L225.00,231.60 L225.64,231.60 L226.27,231.60 L226.90,231.60 L227.53,231.60 L228.16,231.60 L228.80,231.60 L229.43,231.60 L230.06,231.60 L230.69,231.60 L231.32,231.60 L231.95,231.60 L232.59,231.60 L233.22,231.60 L233.85,231.60 L234.48,231.60 L235.11,231.60 L235.75,231.60 L236.38,231.60 L237.01,231.60 L237.64,231.60 L238.27,231.60 L238.90,231.60 L239.54,231.60 L240.17,231.60 L240.80,231.60 L241.43,231.60 L242.06,231.60 L242.70,231.60 L243.33,231.60 L243.96,231.60 L244.59,231.60 L245.22,231.60 L245.85,231.60 L246.49,231.60 L247.12,231.60 L247.75,231.60 L248.38,231.60 L249.01,231.60 L249.65,231.60 L250.28,231.60 L250.91,231.60 L251.54,231.60 L252.17,231.60 L252.80,231.60 L253.44,231.60 L254.07,231.60 L254.70,231.60 L255.33,231.60 L255.96,231.60 L256.60,231.60 L257.23,231.60 L257.86,231.60 L258.49,231.60 L259.12,231.60 L259.75,231.60 L260.39,231.60 L261.02,231.60 L261.65,231.60 L262.28,231.60 L262.91,231.60 L263.55,231.60 L264.18,231.60 L264.81,231.60 L265.44,231.60 L266.07,231.60 L266.70,231.60 L267.34,231.60 L267.97,231.60 L268.60,231.60 L269.23,231.60 L269.86,231.60 L270.49,231.60 L271.13,231.60 L271.76,231.60 L272.39,231.60 L273.02,231.60 L273.65,231.60 L274.29,231.60 L274.92,231.60 L275.55,231.60 L276.18,231.60 L276.81,231.60 L277.44,231.60 L278.08,231.60 L278.71,231.60 L279.34,231.60 L279.97,231.60 L280.60,231.60 L281.24,231.60 L281.87,231.60 L282.50,231.60 L283.13,231.60 L283.76,231.60 L284.39,231.60 L285.03,231.60 L285.66,231.60 L286.29,231.60 L286.92,231.60 L287.55,231.60 L288.19,231.60 L288.82,231.60 L289.45,231.60 L290.08,231.60 L290.71,231.60 L291.34,231.60 L291.98,231.60 L292.61,231.60 L293.24,231.60 L293.87,231.60 L294.50,231.60 L295.14,231.60 L295.77,231.60 L296.40,231.60 L297.03,231.60 L297.66,231.60 L298.29,231.60 L298.93,231.60 L299.56,231.60 L300.19,231.60 L300.82,231.60 L301.45,231.60 L302.09,231.60 L302.72,231.60 L303.35,231.60 L303.98,231.60 L304.61,231.60 L305.24,231.60 L305.88,231.60 L306.51,231.60 L307.14,231.60 L307.77,231.60 L308.40,231.60 L309.04,231.60 L309.67,231.60 L310.30,231.60 L310.93,231.60 L311.56,231.60 L312.19,231.60 L312.83,231.60 L313.46,231.60 L314.09,231.60 L314.72,231.60 L315.35,231.60 L315.99,231.60 L316.62,231.60 L317.25,231.60 L317.88,231.60 L318.51,231.60 L319.14,231.60 L319.78,231.60 L320.41,231.60 L321.04,231.60 L321.67,231.60 L322.30,231.60 L322.94,231.60 L323.57,231.60 L324.20,231.60 L324.83,231.60 L325.46,231.60 L326.09,231.60 L326.73,231.60 L327.36,231.60 L327.99,231.60 L328.62,231.60 L329.25,231.60 L329.89,231.60 L330.52,231.60 L331.15,231.60 L331.78,231.60 L332.41,231.60 L333.04,231.60 L333.68,231.60 L334.31,231.60 L334.94,231.60 L335.57,231.60 L336.20,231.60 L336.84,231.60 L337.47,231.60 L338.10,231.60 L338.73,231.60 L339.36,231.60 L339.99,231.60 L340.63,231.60 L341.26,231.60 L341.89,231.60 L342.52,231.60 L343.15,231.60 L343.79,231.60 L344.42,231.60 L345.05,231.60 L345.68,231.60 L346.31,231.60 L346.94,231.60 L347.58,231.61 L348.21,231.61 L348.84,231.61 L349.47,231.61 L350.10,231.61 L350.74,231.61 L351.37,231.61 L352.00,231.61 L352.63,231.61 L353.26,231.61 L353.89,231.61 L354.53,231.61 L355.16,231.61 L355.79,231.61 L356.42,231.61 L357.05,231.61 L357.69,231.61 L358.32,231.61 L358.95,231.62 L359.58,231.62 L360.21,231.62 L360.84,231.62 L361.48,231.62 L362.11,231.62 L362.74,231.62 L363.37,231.62 L364.00,231.63 L364.64,231.63 L365.27,231.63 L365.90,231.63 L366.53,231.63 L367.16,231.64 L367.79,231.64 L368.43,231.64 L369.06,231.64 L369.69,231.65 L370.32,231.65 L370.95,231.65 L371.59,231.66 L372.22,231.66 L372.85,231.66 L373.48,231.67 L374.11,231.67 L374.74,231.68 L375.38,231.68 L376.01,231.69 L376.64,231.70 L377.27,231.70 L377.90,231.71 L378.54,231.72 L379.17,231.73 L379.80,231.74 L380.43,231.75 L381.06,231.76 L381.69,231.77 L382.33,231.78 L382.96,231.79 L383.59,231.80 L384.22,231.82 L384.85,231.83 L385.48,231.85 L386.12,231.87 L386.75,231.89 L387.38,231.91 L388.01,231.93 L388.64,231.95 L389.28,231.98 L389.91,232.00 L390.54,232.03 L391.17,232.06 L391.80,232.09 L392.43,232.13 L393.07,232.16 L393.70,232.20 L394.33,232.25 L394.96,232.29 L395.59,232.34 L396.23,232.39 L396.86,232.44 L397.49,232.50 L398.12,232.56 L398.75,232.63 L399.38,232.70 L400.02,232.77 L400.65,232.85 L401.28,232.94 L401.91,233.03 L402.54,233.13 L403.18,233.23 L403.81,233.34 L404.44,233.45 L405.07,233.58 L405.70,233.71 L406.33,233.85 L406.97,233.99 L407.60,234.15 L408.23,234.31 L408.86,234.49 L409.49,234.67 L410.13,234.87 L410.76,235.07 L411.39,235.29 L412.02,235.52 L412.65,235.76 L413.28,236.01 L413.92,236.27 L414.55,236.55 L415.18,236.84 L415.81,237.14 L416.44,237.45 L417.08,237.78 L417.71,238.13 L418.34,238.48 L418.97,238.85 L419.60,239.23 L420.23,239.63 L420.87,240.04 L421.50,240.46 L422.13,240.89 L422.76,241.33 L423.39,241.78 L424.03,242.25 L424.66,242.72 L425.29,243.20 L425.92,243.69 L426.55,244.18 L427.18,244.68 L427.82,245.18 L428.45,245.68 L429.08,246.19 L429.71,246.69 L430.34,247.20 L430.98,247.70 L431.61,248.20 L432.24,248.69 L432.87,249.18 L433.50,249.66 L434.13,250.14 L434.77,250.60 L435.40,251.06 L436.03,251.50 L436.66,251.94 L437.29,252.36 L437.93,252.77 L438.56,253.17 L439.19,253.55 L439.82,253.92 L440.45,254.28 L441.08,254.62 L441.72,254.95 L442.35,255.26 L442.98,255.56 L443.61,255.85 L444.24,256.12 L444.88,256.38 L445.51,256.63 L446.14,256.87 L446.77,257.09 L447.40,257.30 L448.03,257.50 L448.67,257.69 L449.30,257.87 L449.93,258.04 L450.56,258.20 L451.19,258.35 L451.83,258.49 L452.46,258.62 L453.09,258.74 L453.72,258.86 L454.35,258.97 L454.98,259.07 L455.62,259.17 L456.25,259.26 L456.88,259.34 L457.51,259.42 L458.14,259.50 L458.78,259.57 L459.41,259.63 L460.04,259.69 L460.67,259.75 L461.30,259.80 L461.93,259.85 L462.57,259.89 L463.20,259.94 L463.83,259.98 L464.46,260.01 L465.09,260.05 L465.73,260.08 L466.36,260.11 L466.99,260.14 L467.62,260.16 L468.25,260.19 L468.88,260.21 L469.52,260.23 L470.15,260.25 L470.78,260.27 L471.41,260.29 L472.04,260.30 L472.68,260.32 L473.31,260.33 L473.94,260.34 L474.57,260.35 L475.20,260.37 L475.83,260.38 L476.47,260.38 L477.10,260.39 L477.73,260.40 L478.36,260.41 L478.99,260.42 L479.63,260.42 L480.26,260.43 L480.89,260.43 L481.52,260.44 L482.15,260.44 L482.78,260.45 L483.42,260.45 L484.05,260.46 L484.68,260.46 L485.31,260.46 L485.94,260.47 L486.58,260.47 L487.21,260.47 L487.84,260.47 L488.47,260.48 L489.10,260.48 L489.73,260.48 L490.37,260.48 L491.00,260.48 L491.63,260.48 L492.26,260.49 L492.89,260.49 L493.53,260.49 L494.16,260.49 L494.79,260.49 L495.42,260.49 L496.05,260.49 L496.68,260.49 L497.32,260.49 L497.95,260.49 L498.58,260.49 L499.21,260.49 L499.84,260.50 L500.47,260.50 L501.11,260.50 L501.74,260.50 L502.37,260.50 L503.00,260.50 L503.63,260.50 L504.27,260.50 L504.90,260.50 L505.53,260.50 L506.16,260.50 L506.79,260.50 L507.42,260.50 L508.06,260.50 L508.69,260.50 L509.32,260.50 L509.95,260.50 L510.58,260.50 L511.22,260.50 L511.85,260.50 L512.48,260.50 L513.11,260.50 L513.74,260.50 L514.37,260.50 L515.01,260.50 L515.64,260.50 L516.27,260.50 L516.90,260.50 L517.53,260.50 L518.17,260.50 L518.80,260.50 L519.43,260.50 L520.06,260.50 L520.69,260.50 L521.32,260.50 L521.96,260.50 L522.59,260.50 L523.22,260.50 L523.85,260.50 L524.48,260.50 L525.12,260.50 L525.75,260.50 L526.38,260.50 L527.01,260.50 L527.64,260.50 L528.27,260.50 L528.91,260.50 L529.54,260.50 L530.17,260.50 L530.80,260.50 L531.43,260.50 L532.07,260.50 L532.70,260.50 L533.33,260.50 L533.96,260.50 L534.59,260.50 L535.22,260.50 L535.86,260.50 L536.49,260.50 L537.12,260.50 L537.75,260.50 L538.38,260.50 L539.02,260.50 L539.65,260.50 L540.28,260.50 L540.91,260.50 L541.54,260.50 L542.17,260.50 L542.81,260.50 L543.44,260.50 L544.07,260.50 L544.70,260.50 L545.33,260.50 L545.97,260.50 L546.60,260.50 L547.23,260.50 L547.86,260.50 L548.49,260.50 L549.12,260.50 L549.76,260.50 L550.39,260.50 L551.02,260.50 L551.65,260.50 L552.28,260.50 L552.92,260.50 L553.55,260.50 L554.18,260.50 L554.81,260.50 L555.44,260.50 L556.07,260.50 L556.71,260.50 L557.34,260.50 L557.97,260.50 L558.60,260.50 L559.23,260.50 L559.87,260.50 L560.50,260.50 L561.13,260.51 L561.76,260.51 L562.39,260.51 L563.02,260.51 L563.66,260.51 L564.29,260.51 L564.92,260.51 L565.55,260.51 L566.18,260.51 L566.82,260.51 L567.45,260.51 L568.08,260.51 L568.71,260.51 L569.34,260.51 L569.97,260.51 L570.61,260.51 L571.24,260.51 L571.87,260.51 L572.50,260.51 L573.13,260.51 L573.77,260.51 L574.40,260.52 L575.03,260.52 L575.66,260.52 L576.29,260.52 L576.92,260.52 L577.56,260.52 L578.19,260.52 L578.82,260.52 L579.45,260.52 L580.08,260.53 L580.72,260.53 L581.35,260.53 L581.98,260.53 L582.61,260.53 L583.24,260.53 L583.87,260.53 L584.51,260.54 L585.14,260.54 L585.77,260.54 L586.40,260.54 L587.03,260.54 L587.67,260.55 L588.30,260.55 L588.93,260.55 L589.56,260.55 L590.19,260.56 L590.82,260.56 L591.46,260.56 L592.09,260.57 L592.72,260.57 L593.35,260.57 L593.98,260.58 L594.62,260.58 L595.25,260.59 L595.88,260.59 L596.51,260.59 L597.14,260.60 L597.77,260.60 L598.41,260.61 L599.04,260.62 L599.67,260.62 L600.30,260.63 L600.93,260.63 L601.57,260.64 L602.20,260.65 L602.83,260.65 L603.46,260.66 L604.09,260.67 L604.72,260.68 L605.36,260.69 L605.99,260.70 L606.62,260.70 L607.25,260.71 L607.88,260.72 L608.52,260.73 L609.15,260.74 L609.78,260.75 L610.41,260.77 L611.04,260.78 L611.67,260.79 L612.31,260.80 L612.94,260.81 L613.57,260.83 L614.20,260.84 L614.83,260.85 L615.46,260.86 L616.10,260.88 L616.73,260.89 L617.36,260.90 L617.99,260.91 L618.62,260.93 L619.26,260.94 L619.89,260.95 L620.52,260.96 L621.15,260.98 L621.78,260.99 L622.41,261.00 L623.05,261.01 L623.68,261.01 L624.31,261.02 L624.94,261.03 L625.57,261.04 L626.21,261.04 L626.84,261.04 L627.47,261.05 L628.10,261.05 L628.73,261.05 L629.36,261.05 L630.00,261.04 L630.63,261.04 L631.26,261.04 L631.89,261.03 L632.52,261.02 L633.16,261.01 L633.79,261.00 L634.42,260.99 L635.05,260.98 L635.68,260.97 L636.31,260.95 L636.95,260.94 L637.58,260.92 L638.21,260.91 L638.84,260.89 L639.47,260.88 L640.11,260.86 L640.74,260.84 L641.37,260.83 L642.00,260.81 L642.63,260.80 L643.26,260.78 L643.90,260.77 L644.53,260.75 L645.16,260.74 L645.79,260.72 L646.42,260.71 L647.06,260.70 L647.69,260.68 L648.32,260.67 L648.95,260.66 L649.58,260.65 L650.21,260.64 L650.85,260.63 L651.48,260.62 L652.11,260.61 L652.74,260.60 L653.37,260.60 L654.01,260.59 L654.64,260.58 L655.27,260.58 L655.90,260.57 L656.53,260.56 L657.16,260.56 L657.80,260.55 L658.43,260.55 L659.06,260.55 L659.69,260.54 L660.32,260.54 L660.96,260.54 L661.59,260.53 L662.22,260.53 L662.85,260.53 L663.48,260.53 L664.11,260.52 L664.75,260.52 L665.38,260.52 L666.01,260.52 L666.64,260.52 L667.27,260.51 L667.91,260.51 L668.54,260.51 L669.17,260.51 L669.80,260.51 L670.43,260.51 L671.06,260.51 L671.70,260.51 L672.33,260.51 L672.96,260.51 L673.59,260.51 L674.22,260.51 L674.86,260.51 L675.49,260.50 L676.12,260.50 L676.75,260.50 L677.38,260.50 L678.01,260.50 L678.65,260.50 L679.28,260.50 L679.91,260.50 L680.54,260.50 L681.17,260.50 L681.81,260.50 L682.44,260.50 L683.07,260.50 L683.70,260.50 L684.33,260.50 L684.96,260.50 L685.60,260.50 L686.23,260.50 L686.86,260.50 L687.49,260.50 L688.12,260.50 L688.76,260.50 L689.39,260.50 L690.02,260.50 L690.65,260.50 L691.28,260.50 L691.91,260.50 L692.55,260.50 L693.18,260.50 L693.81,260.50 L694.44,260.50 L695.07,260.50 L695.71,260.50 L696.34,260.50 L696.97,260.50 L697.60,260.50 L698.23,260.50 L698.86,260.50 L699.50,260.50 L700.13,260.50 L700.76,260.50 L701.39,260.50 L702.02,260.50 L702.66,260.50 L703.29,260.50 L703.92,260.50 L704.55,260.50 L705.18,260.50 L705.81,260.50 L706.45,260.50 L707.08,260.50 L707.71,260.50 L708.34,260.50 L708.97,260.50 L709.61,260.50 L710.24,260.50 L710.87,260.50 L711.50,260.50 L712.13,260.50 L712.76,260.50 L713.40,260.50 L714.03,260.50 L714.66,260.50 L715.29,260.50 L715.92,260.50 L716.56,260.50 L717.19,260.50 L717.82,260.50 L718.45,260.50 L719.08,260.50 L719.71,260.50 L720.35,260.50 L720.98,260.50 L721.61,260.50 L722.24,260.50 L722.87,260.50 L723.51,260.50 L724.14,260.50 L724.77,260.50 L725.40,260.50 L726.03,260.50 L726.66,260.50 L727.30,260.50 L727.93,260.50 L728.56,260.50 L729.19,260.50 L729.82,260.50 L730.45,260.50 L731.09,260.50 L731.72,260.50 L732.35,260.50 L732.98,260.50 L733.61,260.50 L734.25,260.50 L734.88,260.50 L735.51,260.50 L736.14,260.50 L736.77,260.50 L737.40,260.50 L738.04,260.50 L738.67,260.50 L739.30,260.50 L739.93,260.50 L740.56,260.50 L741.20,260.50 L741.83,260.50 L742.46,260.50 L743.09,260.50 L743.72,260.50 L744.35,260.50 L744.99,260.50 L745.62,260.50 L746.25,260.50 L746.88,260.50 L747.51,260.50 L748.15,260.50 L748.78,260.50 L749.41,260.50 L750.04,260.50 L750.67,260.50 L751.30,260.50 L751.94,260.50 L752.57,260.50 L753.20,260.50 L753.83,260.50 L754.46,260.50 L755.10,260.50 L755.73,260.50 L756.36,260.50 L756.99,260.50 L757.62,260.50 L758.25,260.50 L758.89,260.50 L759.52,260.50 L760.15,260.50 L760.78,260.50 L761.41,260.50 L762.05,260.50 L762.68,260.50 L763.31,260.50 L763.94,260.50 L764.57,260.50 L765.20,260.50 L765.84,260.50 L766.47,260.50 L767.10,260.50 L767.73,260.50 L768.36,260.50 L769.00,260.50 L769.63,260.50 L770.26,260.50 L770.89,260.50 L771.52,260.50 L772.15,260.50 L772.79,260.50 L773.42,260.50 L774.05,260.50 L774.68,260.50 L775.31,260.50 L775.95,260.50 L776.58,260.50 L777.21,260.50 L777.84,260.50 L778.47,260.50 L779.10,260.50 L779.74,260.50 L780.37,260.50 L781.00,260.50 L781.5,403.4 Z" fill="url(#cf)"/><line x1="213.5" y1="144.6" x2="213.5" y2="403.4" stroke="#7d7d7d" stroke-width="1"/><line x1="264.5" y1="144.6" x2="264.5" y2="403.4" stroke="#b3b3b3" stroke-width="1"/><line x1="294.5" y1="144.6" x2="294.5" y2="403.4" stroke="#b3b3b3" stroke-width="1"/><line x1="315.5" y1="144.6" x2="315.5" y2="403.4" stroke="#b3b3b3" stroke-width="1"/><line x1="332.5" y1="144.6" x2="332.5" y2="403.4" stroke="#b3b3b3" stroke-width="1"/><line x1="345.5" y1="144.6" x2="345.5" y2="403.4" stroke="#b3b3b3" stroke-width="1"/><line x1="357.5" y1="144.6" x2="357.5" y2="403.4" stroke="#b3b3b3" stroke-width="1"/><line x1="367.5" y1="144.6" x2="367.5" y2="403.4" stroke="#b3b3b3" stroke-width="1"/><line x1="375.5" y1="144.6" x2="375.5" y2="403.4" stroke="#b3b3b3" stroke-width="1"/><line x1="383.5" y1="144.6" x2="383.5" y2="403.4" stroke="#7d7d7d" stroke-width="1"/><line x1="434.5" y1="144.6" x2="434.5" y2="403.4" stroke="#b3b3b3" stroke-width="1"/><line x1="464.5" y1="144.6" x2="464.5" y2="403.4" stroke="#b3b3b3" stroke-width="1"/><line x1="485.5" y1="144.6" x2="485.5" y2="403.4" stroke="#b3b3b3" stroke-width="1"/><line x1="502.5" y1="144.6" x2="502.5" y2="403.4" stroke="#b3b3b3" stroke-width="1"/><line x1="515.5" y1="144.6" x2="515.5" y2="403.4" stroke="#b3b3b3" stroke-width="1"/><line x1="527.5" y1="144.6" x2="527.5" y2="403.4" stroke="#b3b3b3" stroke-width="1"/><line x1="537.5" y1="144.6" x2="537.5" y2="403.4" stroke="#b3b3b3" stroke-width="1"/><line x1="545.5" y1="144.6" x2="545.5" y2="403.4" stroke="#b3b3b3" stroke-width="1"/><line x1="553.5" y1="144.6" x2="553.5" y2="403.4" stroke="#7d7d7d" stroke-width="1"/><line x1="604.5" y1="144.6" x2="604.5" y2="403.4" stroke="#b3b3b3" stroke-width="1"/><line x1="634.5" y1="144.6" x2="634.5" y2="403.4" stroke="#b3b3b3" stroke-width="1"/><line x1="655.5" y1="144.6" x2="655.5" y2="403.4" stroke="#b3b3b3" stroke-width="1"/><line x1="672.5" y1="144.6" x2="672.5" y2="403.4" stroke="#b3b3b3" stroke-width="1"/><line x1="685.5" y1="144.6" x2="685.5" y2="403.4" stroke="#b3b3b3" stroke-width="1"/><line x1="697.5" y1="144.6" x2="697.5" y2="403.4" stroke="#b3b3b3" stroke-width="1"/><line x1="707.5" y1="144.6" x2="707.5" y2="403.4" stroke="#b3b3b3" stroke-width="1"/><line x1="715.5" y1="144.6" x2="715.5" y2="403.4" stroke="#b3b3b3" stroke-width="1"/><line x1="723.5" y1="144.6" x2="723.5" y2="403.4" stroke="#7d7d7d" stroke-width="1"/><line x1="774.5" y1="144.6" x2="774.5" y2="403.4" stroke="#b3b3b3" stroke-width="1"/><line x1="774.5" y1="144.6" x2="774.5" y2="403.4" stroke="#999" stroke-width="1"/><line x1="213.5" y1="163.5" x2="781.5" y2="163.5" stroke="#808080" stroke-width="1"/><line x1="213.5" y1="211.5" x2="781.5" y2="211.5" stroke="#808080" stroke-width="1"/><line x1="213.5" y1="259.5" x2="781.5" y2="259.5" stroke="#808080" stroke-width="1"/><line x1="213.5" y1="307.5" x2="781.5" y2="307.5" stroke="#808080" stroke-width="1"/><line x1="213.5" y1="355.5" x2="781.5" y2="355.5" stroke="#808080" stroke-width="1"/><line x1="213.5" y1="394.5" x2="219.5" y2="394.5" stroke="#9a9a9a" stroke-width="1"/><line x1="213.5" y1="384.5" x2="219.5" y2="384.5" stroke="#9a9a9a" stroke-width="1"/><line x1="213.5" y1="375.5" x2="219.5" y2="375.5" stroke="#9a9a9a" stroke-width="1"/><line x1="213.5" y1="365.5" x2="219.5" y2="365.5" stroke="#9a9a9a" stroke-width="1"/><line x1="213.5" y1="355.5" x2="219.5" y2="355.5" stroke="#9a9a9a" stroke-width="1"/><line x1="213.5" y1="346.5" x2="219.5" y2="346.5" stroke="#9a9a9a" stroke-width="1"/><line x1="213.5" y1="336.5" x2="219.5" y2="336.5" stroke="#9a9a9a" stroke-width="1"/><line x1="213.5" y1="327.5" x2="219.5" y2="327.5" stroke="#9a9a9a" stroke-width="1"/><line x1="213.5" y1="317.5" x2="219.5" y2="317.5" stroke="#9a9a9a" stroke-width="1"/><line x1="213.5" y1="307.5" x2="219.5" y2="307.5" stroke="#9a9a9a" stroke-width="1"/><line x1="213.5" y1="298.5" x2="219.5" y2="298.5" stroke="#9a9a9a" stroke-width="1"/><line x1="213.5" y1="288.5" x2="219.5" y2="288.5" stroke="#9a9a9a" stroke-width="1"/><line x1="213.5" y1="279.5" x2="219.5" y2="279.5" stroke="#9a9a9a" stroke-width="1"/><line x1="213.5" y1="269.5" x2="219.5" y2="269.5" stroke="#9a9a9a" stroke-width="1"/><line x1="213.5" y1="259.5" x2="219.5" y2="259.5" stroke="#9a9a9a" stroke-width="1"/><line x1="213.5" y1="250.5" x2="219.5" y2="250.5" stroke="#9a9a9a" stroke-width="1"/><line x1="213.5" y1="240.5" x2="219.5" y2="240.5" stroke="#9a9a9a" stroke-width="1"/><line x1="213.5" y1="231.5" x2="219.5" y2="231.5" stroke="#9a9a9a" stroke-width="1"/><line x1="213.5" y1="221.5" x2="219.5" y2="221.5" stroke="#9a9a9a" stroke-width="1"/><line x1="213.5" y1="211.5" x2="219.5" y2="211.5" stroke="#9a9a9a" stroke-width="1"/><line x1="213.5" y1="202.5" x2="219.5" y2="202.5" stroke="#9a9a9a" stroke-width="1"/><line x1="213.5" y1="192.5" x2="219.5" y2="192.5" stroke="#9a9a9a" stroke-width="1"/><line x1="213.5" y1="183.5" x2="219.5" y2="183.5" stroke="#9a9a9a" stroke-width="1"/><line x1="213.5" y1="173.5" x2="219.5" y2="173.5" stroke="#9a9a9a" stroke-width="1"/><line x1="213.5" y1="163.5" x2="219.5" y2="163.5" stroke="#9a9a9a" stroke-width="1"/><line x1="213.5" y1="154.5" x2="219.5" y2="154.5" stroke="#9a9a9a" stroke-width="1"/><path d="M394.96,403.86 L395.59,401.10 L396.23,398.35 L396.86,395.60 L397.49,392.86 L398.12,390.13 L398.75,387.41 L399.38,384.70 L400.02,381.99 L400.65,379.30 L401.28,376.61 L401.91,373.94 L402.54,371.28 L403.18,368.63 L403.81,366.00 L404.44,363.38 L405.07,360.77 L405.70,358.18 L406.33,355.61 L406.97,353.06 L407.60,350.52 L408.23,348.01 L408.86,345.52 L409.49,343.04 L410.13,340.60 L410.76,338.17 L411.39,335.77 L412.02,333.40 L412.65,331.06 L413.28,328.74 L413.92,326.46 L414.55,324.21 L415.18,321.99 L415.81,319.81 L416.44,317.66 L417.08,315.55 L417.71,313.47 L418.34,311.44 L418.97,309.45 L419.60,307.50 L420.23,305.59 L420.87,303.72 L421.50,301.90 L422.13,300.13 L422.76,298.40 L423.39,296.72 L424.03,295.09 L424.66,293.50 L425.29,291.97 L425.92,290.48 L426.55,289.04 L427.18,287.65 L427.82,286.31 L428.45,285.01 L429.08,283.77 L429.71,282.57 L430.34,281.42 L430.98,280.32 L431.61,279.26 L432.24,278.25 L432.87,277.28 L433.50,276.36 L434.13,275.47 L434.77,274.63 L435.40,273.83 L436.03,273.07 L436.66,272.35 L437.29,271.66 L437.93,271.00 L438.56,270.39 L439.19,269.80 L439.82,269.24 L440.45,268.72 L441.08,268.22 L441.72,267.75 L442.35,267.31 L442.98,266.89 L443.61,266.50 L444.24,266.13 L444.88,265.78 L445.51,265.45 L446.14,265.14 L446.77,264.85 L447.40,264.57 L448.03,264.31 L448.67,264.07 L449.30,263.85 L449.93,263.63 L450.56,263.43 L451.19,263.24 L451.83,263.07 L452.46,262.90 L453.09,262.75 L453.72,262.60 L454.35,262.47 L454.98,262.34 L455.62,262.22 L456.25,262.11 L456.88,262.00 L457.51,261.91 L458.14,261.81 L458.78,261.73 L459.41,261.65 L460.04,261.57 L460.67,261.50 L461.30,261.44 L461.93,261.38 L462.57,261.32 L463.20,261.27 L463.83,261.21 L464.46,261.17 L465.09,261.12 L465.73,261.08 L466.36,261.04 L466.99,261.01 L467.62,260.98 L468.25,260.94 L468.88,260.91 L469.52,260.89 L470.15,260.86 L470.78,260.84 L471.41,260.82 L472.04,260.79 L472.68,260.78 L473.31,260.76 L473.94,260.74 L474.57,260.72 L475.20,260.71 L475.83,260.70 L476.47,260.68 L477.10,260.67 L477.73,260.66 L478.36,260.65 L478.99,260.64 L479.63,260.63 L480.26,260.62 L480.89,260.61 L481.52,260.61 L482.15,260.60 L482.78,260.59 L483.42,260.59 L484.05,260.58 L484.68,260.58 L485.31,260.57 L485.94,260.57 L486.58,260.56 L487.21,260.56 L487.84,260.55 L488.47,260.55 L489.10,260.55 L489.73,260.54 L490.37,260.54 L491.00,260.54 L491.63,260.54 L492.26,260.53 L492.89,260.53 L493.53,260.53 L494.16,260.53 L494.79,260.53 L495.42,260.52 L496.05,260.52 L496.68,260.52 L497.32,260.52 L497.95,260.52 L498.58,260.52 L499.21,260.52 L499.84,260.51 L500.47,260.51 L501.11,260.51 L501.74,260.51 L502.37,260.51 L503.00,260.51 L503.63,260.51 L504.27,260.51 L504.90,260.51 L505.53,260.51 L506.16,260.51 L506.79,260.51 L507.42,260.51 L508.06,260.51 L508.69,260.51 L509.32,260.51 L509.95,260.50 L510.58,260.50 L511.22,260.50 L511.85,260.50 L512.48,260.50 L513.11,260.50 L513.74,260.50 L514.37,260.50 L515.01,260.50 L515.64,260.50 L516.27,260.50 L516.90,260.50 L517.53,260.50 L518.17,260.50 L518.80,260.50 L519.43,260.50 L520.06,260.50 L520.69,260.50 L521.32,260.50 L521.96,260.50 L522.59,260.50 L523.22,260.50 L523.85,260.50 L524.48,260.50 L525.12,260.50 L525.75,260.50 L526.38,260.50 L527.01,260.50 L527.64,260.50 L528.27,260.50 L528.91,260.50 L529.54,260.50 L530.17,260.50 L530.80,260.50 L531.43,260.50 L532.07,260.50 L532.70,260.50 L533.33,260.50 L533.96,260.50 L534.59,260.50 L535.22,260.50 L535.86,260.50 L536.49,260.50 L537.12,260.50 L537.75,260.50 L538.38,260.50 L539.02,260.50 L539.65,260.50 L540.28,260.50 L540.91,260.50 L541.54,260.50 L542.17,260.50 L542.81,260.50 L543.44,260.50 L544.07,260.50 L544.70,260.50 L545.33,260.50 L545.97,260.50 L546.60,260.50 L547.23,260.50 L547.86,260.50 L548.49,260.50 L549.12,260.50 L549.76,260.50 L550.39,260.50 L551.02,260.51 L551.65,260.51 L552.28,260.51 L552.92,260.51 L553.55,260.51 L554.18,260.51 L554.81,260.51 L555.44,260.51 L556.07,260.51 L556.71,260.51 L557.34,260.51 L557.97,260.51 L558.60,260.51 L559.23,260.51 L559.87,260.51 L560.50,260.51 L561.13,260.52 L561.76,260.52 L562.39,260.52 L563.02,260.52 L563.66,260.52 L564.29,260.52 L564.92,260.52 L565.55,260.53 L566.18,260.53 L566.82,260.53 L567.45,260.53 L568.08,260.53 L568.71,260.54 L569.34,260.54 L569.97,260.54 L570.61,260.54 L571.24,260.55 L571.87,260.55 L572.50,260.55 L573.13,260.56 L573.77,260.56 L574.40,260.57 L575.03,260.57 L575.66,260.58 L576.29,260.58 L576.92,260.59 L577.56,260.59 L578.19,260.60 L578.82,260.61 L579.45,260.61 L580.08,260.62 L580.72,260.63 L581.35,260.64 L581.98,260.65 L582.61,260.66 L583.24,260.67 L583.87,260.69 L584.51,260.70 L585.14,260.71 L585.77,260.73 L586.40,260.74 L587.03,260.76 L587.67,260.78 L588.30,260.80 L588.93,260.82 L589.56,260.84 L590.19,260.87 L590.82,260.90 L591.46,260.92 L592.09,260.95 L592.72,260.99 L593.35,261.02 L593.98,261.06 L594.62,261.10 L595.25,261.14 L595.88,261.19 L596.51,261.23 L597.14,261.29 L597.77,261.34 L598.41,261.40 L599.04,261.47 L599.67,261.53 L600.30,261.61 L600.93,261.69 L601.57,261.77 L602.20,261.86 L602.83,261.96 L603.46,262.06 L604.09,262.17 L604.72,262.29 L605.36,262.41 L605.99,262.55 L606.62,262.69 L607.25,262.84 L607.88,263.01 L608.52,263.18 L609.15,263.37 L609.78,263.57 L610.41,263.78 L611.04,264.00 L611.67,264.25 L612.31,264.50 L612.94,264.78 L613.57,265.07 L614.20,265.38 L614.83,265.71 L615.46,266.06 L616.10,266.44 L616.73,266.84 L617.36,267.26 L617.99,267.71 L618.62,268.19 L619.26,268.69 L619.89,269.22 L620.52,269.79 L621.15,270.39 L621.78,271.02 L622.41,271.69 L623.05,272.40 L623.68,273.14 L624.31,273.93 L624.94,274.75 L625.57,275.62 L626.21,276.53 L626.84,277.49 L627.47,278.49 L628.10,279.54 L628.73,280.64 L629.36,281.79 L630.00,282.98 L630.63,284.23 L631.26,285.53 L631.89,286.88 L632.52,288.29 L633.16,289.74 L633.79,291.25 L634.42,292.81 L635.05,294.43 L635.68,296.09 L636.31,297.81 L636.95,299.58 L637.58,301.40 L638.21,303.27 L638.84,305.19 L639.47,307.16 L640.11,309.17 L640.74,311.23 L641.37,313.34 L642.00,315.49 L642.63,317.69 L643.26,319.92 L643.90,322.19 L644.53,324.51 L645.16,326.86 L645.79,329.25 L646.42,331.67 L647.06,334.12 L647.69,336.61 L648.32,339.13 L648.95,341.68 L649.58,344.25 L650.21,346.86 L650.85,349.48 L651.48,352.14 L652.11,354.82 L652.74,357.51 L653.37,360.24 L654.01,362.98 L654.64,365.74 L655.27,368.52 L655.90,371.31 L656.53,374.13 L657.16,376.96 L657.80,379.81 L658.43,382.67 L659.06,385.54 L659.69,388.43 L660.32,391.33 L660.96,394.24 L661.59,397.17 L662.22,400.10 L662.85,403.05 L663.48,406.01" fill="none" stroke="#ec7cc4" stroke-width="1.1"/><path d="M602.20,403.89 L602.83,401.09 L603.46,398.30 L604.09,395.52 L604.72,392.74 L605.36,389.97 L605.99,387.21 L606.62,384.46 L607.25,381.72 L607.88,378.98 L608.52,376.26 L609.15,373.55 L609.78,370.85 L610.41,368.16 L611.04,365.48 L611.67,362.82 L612.31,360.18 L612.94,357.55 L613.57,354.94 L614.20,352.34 L614.83,349.77 L615.46,347.21 L616.10,344.68 L616.73,342.17 L617.36,339.68 L617.99,337.22 L618.62,334.79 L619.26,332.38 L619.89,330.00 L620.52,327.65 L621.15,325.33 L621.78,323.05 L622.41,320.80 L623.05,318.59 L623.68,316.41 L624.31,314.27 L624.94,312.18 L625.57,310.12 L626.21,308.11 L626.84,306.14 L627.47,304.21 L628.10,302.33 L628.73,300.50 L629.36,298.72 L630.00,296.98 L630.63,295.30 L631.26,293.66 L631.89,292.08 L632.52,290.54 L633.16,289.06 L633.79,287.62 L634.42,286.24 L635.05,284.91 L635.68,283.63 L636.31,282.40 L636.95,281.22 L637.58,280.09 L638.21,279.01 L638.84,277.97 L639.47,276.98 L640.11,276.04 L640.74,275.14 L641.37,274.29 L642.00,273.47 L642.63,272.70 L643.26,271.97 L643.90,271.27 L644.53,270.61 L645.16,269.99 L645.79,269.40 L646.42,268.85 L647.06,268.32 L647.69,267.83 L648.32,267.36 L648.95,266.92 L649.58,266.51 L650.21,266.12 L650.85,265.75 L651.48,265.41 L652.11,265.08 L652.74,264.78 L653.37,264.50 L654.01,264.23 L654.64,263.98 L655.27,263.75 L655.90,263.53 L656.53,263.33 L657.16,263.13 L657.80,262.95 L658.43,262.79 L659.06,262.63 L659.69,262.49 L660.32,262.35 L660.96,262.22 L661.59,262.10 L662.22,261.99 L662.85,261.89 L663.48,261.79 L664.11,261.70 L664.75,261.62 L665.38,261.54 L666.01,261.47 L666.64,261.40 L667.27,261.34 L667.91,261.28 L668.54,261.22 L669.17,261.17 L669.80,261.12 L670.43,261.08 L671.06,261.04 L671.70,261.00 L672.33,260.96 L672.96,260.93 L673.59,260.90 L674.22,260.87 L674.86,260.84 L675.49,260.82 L676.12,260.80 L676.75,260.77 L677.38,260.75 L678.01,260.74 L678.65,260.72 L679.28,260.70 L679.91,260.69 L680.54,260.67 L681.17,260.66 L681.81,260.65 L682.44,260.64 L683.07,260.63 L683.70,260.62 L684.33,260.61 L684.96,260.60 L685.60,260.59 L686.23,260.59 L686.86,260.58 L687.49,260.57 L688.12,260.57 L688.76,260.56 L689.39,260.56 L690.02,260.55 L690.65,260.55 L691.28,260.55 L691.91,260.54 L692.55,260.54 L693.18,260.54 L693.81,260.53 L694.44,260.53 L695.07,260.53 L695.71,260.53 L696.34,260.52 L696.97,260.52 L697.60,260.52 L698.23,260.52 L698.86,260.52 L699.50,260.52 L700.13,260.51 L700.76,260.51 L701.39,260.51 L702.02,260.51 L702.66,260.51 L703.29,260.51 L703.92,260.51 L704.55,260.51 L705.18,260.51 L705.81,260.51 L706.45,260.51 L707.08,260.51 L707.71,260.51 L708.34,260.50 L708.97,260.50 L709.61,260.50 L710.24,260.50 L710.87,260.50 L711.50,260.50 L712.13,260.50 L712.76,260.50 L713.40,260.50 L714.03,260.50 L714.66,260.50 L715.29,260.50 L715.92,260.50 L716.56,260.50 L717.19,260.50 L717.82,260.50 L718.45,260.50 L719.08,260.50 L719.71,260.50 L720.35,260.50 L720.98,260.50 L721.61,260.50 L722.24,260.50 L722.87,260.50 L723.51,260.50 L724.14,260.50 L724.77,260.50 L725.40,260.50 L726.03,260.50 L726.66,260.50 L727.30,260.50 L727.93,260.50 L728.56,260.50 L729.19,260.50 L729.82,260.50 L730.45,260.50 L731.09,260.50 L731.72,260.50 L732.35,260.50 L732.98,260.50 L733.61,260.50 L734.25,260.50 L734.88,260.50 L735.51,260.50 L736.14,260.50 L736.77,260.50 L737.40,260.50 L738.04,260.50 L738.67,260.50 L739.30,260.50 L739.93,260.50 L740.56,260.50 L741.20,260.50 L741.83,260.50 L742.46,260.50 L743.09,260.50 L743.72,260.50 L744.35,260.50 L744.99,260.50 L745.62,260.50 L746.25,260.50 L746.88,260.50 L747.51,260.50 L748.15,260.50 L748.78,260.50 L749.41,260.50 L750.04,260.50 L750.67,260.50 L751.30,260.50 L751.94,260.50 L752.57,260.50 L753.20,260.50 L753.83,260.50 L754.46,260.50 L755.10,260.50 L755.73,260.50 L756.36,260.50 L756.99,260.50 L757.62,260.50 L758.25,260.50 L758.89,260.50 L759.52,260.50 L760.15,260.50 L760.78,260.50 L761.41,260.50 L762.05,260.50 L762.68,260.50 L763.31,260.50 L763.94,260.50 L764.57,260.50 L765.20,260.50 L765.84,260.50 L766.47,260.50 L767.10,260.50 L767.73,260.50 L768.36,260.50 L769.00,260.50 L769.63,260.50 L770.26,260.50 L770.89,260.50 L771.52,260.50 L772.15,260.50 L772.79,260.50 L773.42,260.50 L774.05,260.50 L774.68,260.50 L775.31,260.50 L775.95,260.50 L776.58,260.50 L777.21,260.50 L777.84,260.50 L778.47,260.50 L779.10,260.50 L779.74,260.50 L780.37,260.50 L781.00,260.50" fill="none" stroke="#f0a048" stroke-width="1.1"/><path d="M213.00,231.60 L213.63,231.60 L214.26,231.60 L214.90,231.60 L215.53,231.60 L216.16,231.60 L216.79,231.60 L217.42,231.60 L218.05,231.60 L218.69,231.60 L219.32,231.60 L219.95,231.60 L220.58,231.60 L221.21,231.60 L221.85,231.60 L222.48,231.60 L223.11,231.60 L223.74,231.60 L224.37,231.60 L225.00,231.60 L225.64,231.60 L226.27,231.60 L226.90,231.60 L227.53,231.60 L228.16,231.60 L228.80,231.60 L229.43,231.60 L230.06,231.60 L230.69,231.60 L231.32,231.60 L231.95,231.60 L232.59,231.60 L233.22,231.60 L233.85,231.60 L234.48,231.60 L235.11,231.60 L235.75,231.60 L236.38,231.60 L237.01,231.60 L237.64,231.60 L238.27,231.60 L238.90,231.60 L239.54,231.60 L240.17,231.60 L240.80,231.60 L241.43,231.60 L242.06,231.60 L242.70,231.60 L243.33,231.60 L243.96,231.60 L244.59,231.60 L245.22,231.60 L245.85,231.60 L246.49,231.60 L247.12,231.60 L247.75,231.60 L248.38,231.60 L249.01,231.60 L249.65,231.60 L250.28,231.60 L250.91,231.60 L251.54,231.60 L252.17,231.60 L252.80,231.60 L253.44,231.60 L254.07,231.60 L254.70,231.60 L255.33,231.60 L255.96,231.60 L256.60,231.60 L257.23,231.60 L257.86,231.60 L258.49,231.60 L259.12,231.60 L259.75,231.60 L260.39,231.60 L261.02,231.60 L261.65,231.60 L262.28,231.60 L262.91,231.60 L263.55,231.60 L264.18,231.60 L264.81,231.60 L265.44,231.60 L266.07,231.60 L266.70,231.60 L267.34,231.60 L267.97,231.60 L268.60,231.60 L269.23,231.60 L269.86,231.60 L270.49,231.60 L271.13,231.60 L271.76,231.60 L272.39,231.60 L273.02,231.60 L273.65,231.60 L274.29,231.60 L274.92,231.60 L275.55,231.60 L276.18,231.60 L276.81,231.60 L277.44,231.60 L278.08,231.60 L278.71,231.60 L279.34,231.60 L279.97,231.60 L280.60,231.60 L281.24,231.60 L281.87,231.60 L282.50,231.60 L283.13,231.60 L283.76,231.60 L284.39,231.60 L285.03,231.60 L285.66,231.60 L286.29,231.60 L286.92,231.60 L287.55,231.60 L288.19,231.60 L288.82,231.60 L289.45,231.60 L290.08,231.60 L290.71,231.60 L291.34,231.60 L291.98,231.60 L292.61,231.60 L293.24,231.60 L293.87,231.60 L294.50,231.60 L295.14,231.60 L295.77,231.60 L296.40,231.60 L297.03,231.60 L297.66,231.60 L298.29,231.60 L298.93,231.60 L299.56,231.60 L300.19,231.60 L300.82,231.60 L301.45,231.60 L302.09,231.60 L302.72,231.60 L303.35,231.60 L303.98,231.60 L304.61,231.60 L305.24,231.60 L305.88,231.60 L306.51,231.60 L307.14,231.60 L307.77,231.60 L308.40,231.60 L309.04,231.60 L309.67,231.60 L310.30,231.60 L310.93,231.60 L311.56,231.60 L312.19,231.60 L312.83,231.60 L313.46,231.60 L314.09,231.60 L314.72,231.60 L315.35,231.60 L315.99,231.60 L316.62,231.60 L317.25,231.60 L317.88,231.60 L318.51,231.60 L319.14,231.60 L319.78,231.60 L320.41,231.60 L321.04,231.60 L321.67,231.60 L322.30,231.60 L322.94,231.60 L323.57,231.60 L324.20,231.60 L324.83,231.60 L325.46,231.60 L326.09,231.60 L326.73,231.60 L327.36,231.60 L327.99,231.60 L328.62,231.60 L329.25,231.60 L329.89,231.60 L330.52,231.60 L331.15,231.60 L331.78,231.60 L332.41,231.60 L333.04,231.60 L333.68,231.60 L334.31,231.60 L334.94,231.60 L335.57,231.60 L336.20,231.60 L336.84,231.60 L337.47,231.60 L338.10,231.60 L338.73,231.60 L339.36,231.60 L339.99,231.60 L340.63,231.60 L341.26,231.61 L341.89,231.61 L342.52,231.61 L343.15,231.61 L343.79,231.61 L344.42,231.61 L345.05,231.61 L345.68,231.61 L346.31,231.61 L346.94,231.61 L347.58,231.61 L348.21,231.61 L348.84,231.61 L349.47,231.61 L350.10,231.61 L350.74,231.61 L351.37,231.61 L352.00,231.61 L352.63,231.62 L353.26,231.62 L353.89,231.62 L354.53,231.62 L355.16,231.62 L355.79,231.62 L356.42,231.62 L357.05,231.62 L357.69,231.63 L358.32,231.63 L358.95,231.63 L359.58,231.63 L360.21,231.63 L360.84,231.64 L361.48,231.64 L362.11,231.64 L362.74,231.64 L363.37,231.65 L364.00,231.65 L364.64,231.65 L365.27,231.66 L365.90,231.66 L366.53,231.66 L367.16,231.67 L367.79,231.67 L368.43,231.68 L369.06,231.68 L369.69,231.69 L370.32,231.70 L370.95,231.70 L371.59,231.71 L372.22,231.72 L372.85,231.73 L373.48,231.74 L374.11,231.75 L374.74,231.76 L375.38,231.77 L376.01,231.78 L376.64,231.79 L377.27,231.80 L377.90,231.82 L378.54,231.83 L379.17,231.85 L379.80,231.87 L380.43,231.89 L381.06,231.91 L381.69,231.93 L382.33,231.95 L382.96,231.98 L383.59,232.00 L384.22,232.03 L384.85,232.06 L385.48,232.09 L386.12,232.13 L386.75,232.17 L387.38,232.20 L388.01,232.25 L388.64,232.29 L389.28,232.34 L389.91,232.39 L390.54,232.45 L391.17,232.51 L391.80,232.57 L392.43,232.64 L393.07,232.71 L393.70,232.79 L394.33,232.87 L394.96,232.96 L395.59,233.06 L396.23,233.16 L396.86,233.27 L397.49,233.38 L398.12,233.50 L398.75,233.64 L399.38,233.78 L400.02,233.93 L400.65,234.09 L401.28,234.26 L401.91,234.44 L402.54,234.63 L403.18,234.84 L403.81,235.06 L404.44,235.30 L405.07,235.55 L405.70,235.81 L406.33,236.09 L406.97,236.39 L407.60,236.71 L408.23,237.05 L408.86,237.41 L409.49,237.80 L410.13,238.20 L410.76,238.63 L411.39,239.09 L412.02,239.57 L412.65,240.08 L413.28,240.62 L413.92,241.19 L414.55,241.80 L415.18,242.43 L415.81,243.10 L416.44,243.81 L417.08,244.55 L417.71,245.34 L418.34,246.16 L418.97,247.02 L419.60,247.92 L420.23,248.87 L420.87,249.86 L421.50,250.89 L422.13,251.97 L422.76,253.10 L423.39,254.27 L424.03,255.50 L424.66,256.76 L425.29,258.08 L425.92,259.45 L426.55,260.86 L427.18,262.33 L427.82,263.84 L428.45,265.40 L429.08,267.01 L429.71,268.67 L430.34,270.38 L430.98,272.13 L431.61,273.92 L432.24,275.77 L432.87,277.65 L433.50,279.58 L434.13,281.56 L434.77,283.57 L435.40,285.62 L436.03,287.72 L436.66,289.85 L437.29,292.01 L437.93,294.22 L438.56,296.45 L439.19,298.72 L439.82,301.02 L440.45,303.35 L441.08,305.71 L441.72,308.09 L442.35,310.50 L442.98,312.94 L443.61,315.40 L444.24,317.88 L444.88,320.39 L445.51,322.92 L446.14,325.46 L446.77,328.02 L447.40,330.60 L448.03,333.20 L448.67,335.81 L449.30,338.44 L449.93,341.08 L450.56,343.74 L451.19,346.41 L451.83,349.08 L452.46,351.77 L453.09,354.47 L453.72,357.18 L454.35,359.90 L454.98,362.63 L455.62,365.37 L456.25,368.11 L456.88,370.86 L457.51,373.62 L458.14,376.38 L458.78,379.15 L459.41,381.93 L460.04,384.71 L460.67,387.49 L461.30,390.28 L461.93,393.07 L462.57,395.87 L463.20,398.67 L463.83,401.48 L464.46,404.29 L465.09,407.10" fill="none" stroke="#2448e6" stroke-width="1.4"/><path d="M213.00,231.60 L213.63,231.60 L214.26,231.60 L214.90,231.60 L215.53,231.60 L216.16,231.60 L216.79,231.60 L217.42,231.60 L218.05,231.60 L218.69,231.60 L219.32,231.60 L219.95,231.60 L220.58,231.60 L221.21,231.60 L221.85,231.60 L222.48,231.60 L223.11,231.60 L223.74,231.60 L224.37,231.60 L225.00,231.60 L225.64,231.60 L226.27,231.60 L226.90,231.60 L227.53,231.60 L228.16,231.60 L228.80,231.60 L229.43,231.60 L230.06,231.60 L230.69,231.60 L231.32,231.60 L231.95,231.60 L232.59,231.60 L233.22,231.60 L233.85,231.60 L234.48,231.60 L235.11,231.60 L235.75,231.60 L236.38,231.60 L237.01,231.60 L237.64,231.60 L238.27,231.60 L238.90,231.60 L239.54,231.60 L240.17,231.60 L240.80,231.60 L241.43,231.60 L242.06,231.60 L242.70,231.60 L243.33,231.60 L243.96,231.60 L244.59,231.60 L245.22,231.60 L245.85,231.60 L246.49,231.60 L247.12,231.60 L247.75,231.60 L248.38,231.60 L249.01,231.60 L249.65,231.60 L250.28,231.60 L250.91,231.60 L251.54,231.60 L252.17,231.60 L252.80,231.60 L253.44,231.60 L254.07,231.60 L254.70,231.60 L255.33,231.60 L255.96,231.60 L256.60,231.60 L257.23,231.60 L257.86,231.60 L258.49,231.60 L259.12,231.60 L259.75,231.60 L260.39,231.60 L261.02,231.60 L261.65,231.60 L262.28,231.60 L262.91,231.60 L263.55,231.60 L264.18,231.60 L264.81,231.60 L265.44,231.60 L266.07,231.60 L266.70,231.60 L267.34,231.60 L267.97,231.60 L268.60,231.60 L269.23,231.60 L269.86,231.60 L270.49,231.60 L271.13,231.60 L271.76,231.60 L272.39,231.60 L273.02,231.60 L273.65,231.60 L274.29,231.60 L274.92,231.60 L275.55,231.60 L276.18,231.60 L276.81,231.60 L277.44,231.60 L278.08,231.60 L278.71,231.60 L279.34,231.60 L279.97,231.60 L280.60,231.60 L281.24,231.60 L281.87,231.60 L282.50,231.60 L283.13,231.60 L283.76,231.60 L284.39,231.60 L285.03,231.60 L285.66,231.60 L286.29,231.60 L286.92,231.60 L287.55,231.60 L288.19,231.60 L288.82,231.60 L289.45,231.60 L290.08,231.60 L290.71,231.60 L291.34,231.60 L291.98,231.60 L292.61,231.60 L293.24,231.60 L293.87,231.60 L294.50,231.60 L295.14,231.60 L295.77,231.60 L296.40,231.60 L297.03,231.60 L297.66,231.60 L298.29,231.60 L298.93,231.60 L299.56,231.60 L300.19,231.60 L300.82,231.60 L301.45,231.60 L302.09,231.60 L302.72,231.60 L303.35,231.60 L303.98,231.60 L304.61,231.60 L305.24,231.60 L305.88,231.60 L306.51,231.60 L307.14,231.60 L307.77,231.60 L308.40,231.60 L309.04,231.60 L309.67,231.60 L310.30,231.60 L310.93,231.60 L311.56,231.60 L312.19,231.60 L312.83,231.60 L313.46,231.60 L314.09,231.60 L314.72,231.60 L315.35,231.60 L315.99,231.60 L316.62,231.60 L317.25,231.60 L317.88,231.60 L318.51,231.60 L319.14,231.60 L319.78,231.60 L320.41,231.60 L321.04,231.60 L321.67,231.60 L322.30,231.60 L322.94,231.60 L323.57,231.60 L324.20,231.60 L324.83,231.60 L325.46,231.60 L326.09,231.60 L326.73,231.60 L327.36,231.60 L327.99,231.60 L328.62,231.60 L329.25,231.60 L329.89,231.60 L330.52,231.60 L331.15,231.60 L331.78,231.60 L332.41,231.60 L333.04,231.60 L333.68,231.60 L334.31,231.60 L334.94,231.60 L335.57,231.60 L336.20,231.60 L336.84,231.60 L337.47,231.60 L338.10,231.60 L338.73,231.60 L339.36,231.60 L339.99,231.60 L340.63,231.60 L341.26,231.60 L341.89,231.60 L342.52,231.60 L343.15,231.60 L343.79,231.60 L344.42,231.60 L345.05,231.60 L345.68,231.60 L346.31,231.60 L346.94,231.60 L347.58,231.61 L348.21,231.61 L348.84,231.61 L349.47,231.61 L350.10,231.61 L350.74,231.61 L351.37,231.61 L352.00,231.61 L352.63,231.61 L353.26,231.61 L353.89,231.61 L354.53,231.61 L355.16,231.61 L355.79,231.61 L356.42,231.61 L357.05,231.61 L357.69,231.61 L358.32,231.61 L358.95,231.62 L359.58,231.62 L360.21,231.62 L360.84,231.62 L361.48,231.62 L362.11,231.62 L362.74,231.62 L363.37,231.62 L364.00,231.63 L364.64,231.63 L365.27,231.63 L365.90,231.63 L366.53,231.63 L367.16,231.64 L367.79,231.64 L368.43,231.64 L369.06,231.64 L369.69,231.65 L370.32,231.65 L370.95,231.65 L371.59,231.66 L372.22,231.66 L372.85,231.66 L373.48,231.67 L374.11,231.67 L374.74,231.68 L375.38,231.68 L376.01,231.69 L376.64,231.70 L377.27,231.70 L377.90,231.71 L378.54,231.72 L379.17,231.73 L379.80,231.74 L380.43,231.75 L381.06,231.76 L381.69,231.77 L382.33,231.78 L382.96,231.79 L383.59,231.80 L384.22,231.82 L384.85,231.83 L385.48,231.85 L386.12,231.87 L386.75,231.89 L387.38,231.91 L388.01,231.93 L388.64,231.95 L389.28,231.98 L389.91,232.00 L390.54,232.03 L391.17,232.06 L391.80,232.09 L392.43,232.13 L393.07,232.16 L393.70,232.20 L394.33,232.25 L394.96,232.29 L395.59,232.34 L396.23,232.39 L396.86,232.44 L397.49,232.50 L398.12,232.56 L398.75,232.63 L399.38,232.70 L400.02,232.77 L400.65,232.85 L401.28,232.94 L401.91,233.03 L402.54,233.13 L403.18,233.23 L403.81,233.34 L404.44,233.45 L405.07,233.58 L405.70,233.71 L406.33,233.85 L406.97,233.99 L407.60,234.15 L408.23,234.31 L408.86,234.49 L409.49,234.67 L410.13,234.87 L410.76,235.07 L411.39,235.29 L412.02,235.52 L412.65,235.76 L413.28,236.01 L413.92,236.27 L414.55,236.55 L415.18,236.84 L415.81,237.14 L416.44,237.45 L417.08,237.78 L417.71,238.13 L418.34,238.48 L418.97,238.85 L419.60,239.23 L420.23,239.63 L420.87,240.04 L421.50,240.46 L422.13,240.89 L422.76,241.33 L423.39,241.78 L424.03,242.25 L424.66,242.72 L425.29,243.20 L425.92,243.69 L426.55,244.18 L427.18,244.68 L427.82,245.18 L428.45,245.68 L429.08,246.19 L429.71,246.69 L430.34,247.20 L430.98,247.70 L431.61,248.20 L432.24,248.69 L432.87,249.18 L433.50,249.66 L434.13,250.14 L434.77,250.60 L435.40,251.06 L436.03,251.50 L436.66,251.94 L437.29,252.36 L437.93,252.77 L438.56,253.17 L439.19,253.55 L439.82,253.92 L440.45,254.28 L441.08,254.62 L441.72,254.95 L442.35,255.26 L442.98,255.56 L443.61,255.85 L444.24,256.12 L444.88,256.38 L445.51,256.63 L446.14,256.87 L446.77,257.09 L447.40,257.30 L448.03,257.50 L448.67,257.69 L449.30,257.87 L449.93,258.04 L450.56,258.20 L451.19,258.35 L451.83,258.49 L452.46,258.62 L453.09,258.74 L453.72,258.86 L454.35,258.97 L454.98,259.07 L455.62,259.17 L456.25,259.26 L456.88,259.34 L457.51,259.42 L458.14,259.50 L458.78,259.57 L459.41,259.63 L460.04,259.69 L460.67,259.75 L461.30,259.80 L461.93,259.85 L462.57,259.89 L463.20,259.94 L463.83,259.98 L464.46,260.01 L465.09,260.05 L465.73,260.08 L466.36,260.11 L466.99,260.14 L467.62,260.16 L468.25,260.19 L468.88,260.21 L469.52,260.23 L470.15,260.25 L470.78,260.27 L471.41,260.29 L472.04,260.30 L472.68,260.32 L473.31,260.33 L473.94,260.34 L474.57,260.35 L475.20,260.37 L475.83,260.38 L476.47,260.38 L477.10,260.39 L477.73,260.40 L478.36,260.41 L478.99,260.42 L479.63,260.42 L480.26,260.43 L480.89,260.43 L481.52,260.44 L482.15,260.44 L482.78,260.45 L483.42,260.45 L484.05,260.46 L484.68,260.46 L485.31,260.46 L485.94,260.47 L486.58,260.47 L487.21,260.47 L487.84,260.47 L488.47,260.48 L489.10,260.48 L489.73,260.48 L490.37,260.48 L491.00,260.48 L491.63,260.48 L492.26,260.49 L492.89,260.49 L493.53,260.49 L494.16,260.49 L494.79,260.49 L495.42,260.49 L496.05,260.49 L496.68,260.49 L497.32,260.49 L497.95,260.49 L498.58,260.49 L499.21,260.49 L499.84,260.50 L500.47,260.50 L501.11,260.50 L501.74,260.50 L502.37,260.50 L503.00,260.50 L503.63,260.50 L504.27,260.50 L504.90,260.50 L505.53,260.50 L506.16,260.50 L506.79,260.50 L507.42,260.50 L508.06,260.50 L508.69,260.50 L509.32,260.50 L509.95,260.50 L510.58,260.50 L511.22,260.50 L511.85,260.50 L512.48,260.50 L513.11,260.50 L513.74,260.50 L514.37,260.50 L515.01,260.50 L515.64,260.50 L516.27,260.50 L516.90,260.50 L517.53,260.50 L518.17,260.50 L518.80,260.50 L519.43,260.50 L520.06,260.50 L520.69,260.50 L521.32,260.50 L521.96,260.50 L522.59,260.50 L523.22,260.50 L523.85,260.50 L524.48,260.50 L525.12,260.50 L525.75,260.50 L526.38,260.50 L527.01,260.50 L527.64,260.50 L528.27,260.50 L528.91,260.50 L529.54,260.50 L530.17,260.50 L530.80,260.50 L531.43,260.50 L532.07,260.50 L532.70,260.50 L533.33,260.50 L533.96,260.50 L534.59,260.50 L535.22,260.50 L535.86,260.50 L536.49,260.50 L537.12,260.50 L537.75,260.50 L538.38,260.50 L539.02,260.50 L539.65,260.50 L540.28,260.50 L540.91,260.50 L541.54,260.50 L542.17,260.50 L542.81,260.50 L543.44,260.50 L544.07,260.50 L544.70,260.50 L545.33,260.50 L545.97,260.50 L546.60,260.50 L547.23,260.50 L547.86,260.50 L548.49,260.50 L549.12,260.50 L549.76,260.50 L550.39,260.50 L551.02,260.50 L551.65,260.50 L552.28,260.50 L552.92,260.50 L553.55,260.50 L554.18,260.50 L554.81,260.50 L555.44,260.50 L556.07,260.50 L556.71,260.50 L557.34,260.50 L557.97,260.50 L558.60,260.50 L559.23,260.50 L559.87,260.50 L560.50,260.50 L561.13,260.51 L561.76,260.51 L562.39,260.51 L563.02,260.51 L563.66,260.51 L564.29,260.51 L564.92,260.51 L565.55,260.51 L566.18,260.51 L566.82,260.51 L567.45,260.51 L568.08,260.51 L568.71,260.51 L569.34,260.51 L569.97,260.51 L570.61,260.51 L571.24,260.51 L571.87,260.51 L572.50,260.51 L573.13,260.51 L573.77,260.51 L574.40,260.52 L575.03,260.52 L575.66,260.52 L576.29,260.52 L576.92,260.52 L577.56,260.52 L578.19,260.52 L578.82,260.52 L579.45,260.52 L580.08,260.53 L580.72,260.53 L581.35,260.53 L581.98,260.53 L582.61,260.53 L583.24,260.53 L583.87,260.53 L584.51,260.54 L585.14,260.54 L585.77,260.54 L586.40,260.54 L587.03,260.54 L587.67,260.55 L588.30,260.55 L588.93,260.55 L589.56,260.55 L590.19,260.56 L590.82,260.56 L591.46,260.56 L592.09,260.57 L592.72,260.57 L593.35,260.57 L593.98,260.58 L594.62,260.58 L595.25,260.59 L595.88,260.59 L596.51,260.59 L597.14,260.60 L597.77,260.60 L598.41,260.61 L599.04,260.62 L599.67,260.62 L600.30,260.63 L600.93,260.63 L601.57,260.64 L602.20,260.65 L602.83,260.65 L603.46,260.66 L604.09,260.67 L604.72,260.68 L605.36,260.69 L605.99,260.70 L606.62,260.70 L607.25,260.71 L607.88,260.72 L608.52,260.73 L609.15,260.74 L609.78,260.75 L610.41,260.77 L611.04,260.78 L611.67,260.79 L612.31,260.80 L612.94,260.81 L613.57,260.83 L614.20,260.84 L614.83,260.85 L615.46,260.86 L616.10,260.88 L616.73,260.89 L617.36,260.90 L617.99,260.91 L618.62,260.93 L619.26,260.94 L619.89,260.95 L620.52,260.96 L621.15,260.98 L621.78,260.99 L622.41,261.00 L623.05,261.01 L623.68,261.01 L624.31,261.02 L624.94,261.03 L625.57,261.04 L626.21,261.04 L626.84,261.04 L627.47,261.05 L628.10,261.05 L628.73,261.05 L629.36,261.05 L630.00,261.04 L630.63,261.04 L631.26,261.04 L631.89,261.03 L632.52,261.02 L633.16,261.01 L633.79,261.00 L634.42,260.99 L635.05,260.98 L635.68,260.97 L636.31,260.95 L636.95,260.94 L637.58,260.92 L638.21,260.91 L638.84,260.89 L639.47,260.88 L640.11,260.86 L640.74,260.84 L641.37,260.83 L642.00,260.81 L642.63,260.80 L643.26,260.78 L643.90,260.77 L644.53,260.75 L645.16,260.74 L645.79,260.72 L646.42,260.71 L647.06,260.70 L647.69,260.68 L648.32,260.67 L648.95,260.66 L649.58,260.65 L650.21,260.64 L650.85,260.63 L651.48,260.62 L652.11,260.61 L652.74,260.60 L653.37,260.60 L654.01,260.59 L654.64,260.58 L655.27,260.58 L655.90,260.57 L656.53,260.56 L657.16,260.56 L657.80,260.55 L658.43,260.55 L659.06,260.55 L659.69,260.54 L660.32,260.54 L660.96,260.54 L661.59,260.53 L662.22,260.53 L662.85,260.53 L663.48,260.53 L664.11,260.52 L664.75,260.52 L665.38,260.52 L666.01,260.52 L666.64,260.52 L667.27,260.51 L667.91,260.51 L668.54,260.51 L669.17,260.51 L669.80,260.51 L670.43,260.51 L671.06,260.51 L671.70,260.51 L672.33,260.51 L672.96,260.51 L673.59,260.51 L674.22,260.51 L674.86,260.51 L675.49,260.50 L676.12,260.50 L676.75,260.50 L677.38,260.50 L678.01,260.50 L678.65,260.50 L679.28,260.50 L679.91,260.50 L680.54,260.50 L681.17,260.50 L681.81,260.50 L682.44,260.50 L683.07,260.50 L683.70,260.50 L684.33,260.50 L684.96,260.50 L685.60,260.50 L686.23,260.50 L686.86,260.50 L687.49,260.50 L688.12,260.50 L688.76,260.50 L689.39,260.50 L690.02,260.50 L690.65,260.50 L691.28,260.50 L691.91,260.50 L692.55,260.50 L693.18,260.50 L693.81,260.50 L694.44,260.50 L695.07,260.50 L695.71,260.50 L696.34,260.50 L696.97,260.50 L697.60,260.50 L698.23,260.50 L698.86,260.50 L699.50,260.50 L700.13,260.50 L700.76,260.50 L701.39,260.50 L702.02,260.50 L702.66,260.50 L703.29,260.50 L703.92,260.50 L704.55,260.50 L705.18,260.50 L705.81,260.50 L706.45,260.50 L707.08,260.50 L707.71,260.50 L708.34,260.50 L708.97,260.50 L709.61,260.50 L710.24,260.50 L710.87,260.50 L711.50,260.50 L712.13,260.50 L712.76,260.50 L713.40,260.50 L714.03,260.50 L714.66,260.50 L715.29,260.50 L715.92,260.50 L716.56,260.50 L717.19,260.50 L717.82,260.50 L718.45,260.50 L719.08,260.50 L719.71,260.50 L720.35,260.50 L720.98,260.50 L721.61,260.50 L722.24,260.50 L722.87,260.50 L723.51,260.50 L724.14,260.50 L724.77,260.50 L725.40,260.50 L726.03,260.50 L726.66,260.50 L727.30,260.50 L727.93,260.50 L728.56,260.50 L729.19,260.50 L729.82,260.50 L730.45,260.50 L731.09,260.50 L731.72,260.50 L732.35,260.50 L732.98,260.50 L733.61,260.50 L734.25,260.50 L734.88,260.50 L735.51,260.50 L736.14,260.50 L736.77,260.50 L737.40,260.50 L738.04,260.50 L738.67,260.50 L739.30,260.50 L739.93,260.50 L740.56,260.50 L741.20,260.50 L741.83,260.50 L742.46,260.50 L743.09,260.50 L743.72,260.50 L744.35,260.50 L744.99,260.50 L745.62,260.50 L746.25,260.50 L746.88,260.50 L747.51,260.50 L748.15,260.50 L748.78,260.50 L749.41,260.50 L750.04,260.50 L750.67,260.50 L751.30,260.50 L751.94,260.50 L752.57,260.50 L753.20,260.50 L753.83,260.50 L754.46,260.50 L755.10,260.50 L755.73,260.50 L756.36,260.50 L756.99,260.50 L757.62,260.50 L758.25,260.50 L758.89,260.50 L759.52,260.50 L760.15,260.50 L760.78,260.50 L761.41,260.50 L762.05,260.50 L762.68,260.50 L763.31,260.50 L763.94,260.50 L764.57,260.50 L765.20,260.50 L765.84,260.50 L766.47,260.50 L767.10,260.50 L767.73,260.50 L768.36,260.50 L769.00,260.50 L769.63,260.50 L770.26,260.50 L770.89,260.50 L771.52,260.50 L772.15,260.50 L772.79,260.50 L773.42,260.50 L774.05,260.50 L774.68,260.50 L775.31,260.50 L775.95,260.50 L776.58,260.50 L777.21,260.50 L777.84,260.50 L778.47,260.50 L779.10,260.50 L779.74,260.50 L780.37,260.50 L781.00,260.50" fill="none" stroke="#1e1e1e" stroke-width="1.3"/><circle cx="427.3" cy="231.6" r="4.2" fill="#007d00" stroke="#1a1a8c" stroke-width="1.1"/><circle cx="427.3" cy="260.4" r="4.2" fill="#007d00" stroke="#1a1a8c" stroke-width="1.1"/><circle cx="635.0" cy="260.4" r="4.2" fill="#007d00" stroke="#1a1a8c" stroke-width="1.1"/></g><rect x="213.5" y="144.6" width="568.0" height="258.79999999999995" fill="none" stroke="#6b7f98" stroke-width="2"/></svg><div class="t" style="left:150px;top:156.3px;width:60px;height:18px;line-height:18px;text-align:right;font-size:11px;color:#566b86">20</div><div class="t" style="left:150px;top:204.3px;width:60px;height:18px;line-height:18px;text-align:right;font-size:11px;color:#566b86">10</div><div class="t" style="left:150px;top:252.3px;width:60px;height:18px;line-height:18px;text-align:right;font-size:11px;color:#566b86">0</div><div class="t" style="left:150px;top:300.3px;width:60px;height:18px;line-height:18px;text-align:right;font-size:11px;color:#566b86">-10</div><div class="t" style="left:150px;top:348.3px;width:60px;height:18px;line-height:18px;text-align:right;font-size:11px;color:#566b86">-20</div><div class="t" style="left:150px;top:396.3px;width:60px;height:18px;line-height:18px;text-align:right;font-size:11px;color:#566b86">-30</div><div class="t" style="left:173.5px;top:407px;width:80px;height:18px;line-height:18px;text-align:center;font-size:10.5px;color:#566b86">10</div><div class="t" style="left:343.5px;top:407px;width:80px;height:18px;line-height:18px;text-align:center;font-size:10.5px;color:#566b86">100</div><div class="t" style="left:513.5px;top:407px;width:80px;height:18px;line-height:18px;text-align:center;font-size:10.5px;color:#566b86">1000</div><div class="t" style="left:683.5px;top:407px;width:80px;height:18px;line-height:18px;text-align:center;font-size:10.5px;color:#566b86">10000</div><div class="t" style="left:182px;top:259px;height:18px;line-height:18px;font-size:11px;color:#566b86">dB</div><div class="t" style="left:469.5px;top:418px;height:18px;line-height:18px;font-size:11px;color:#566b86">Hz</div><div class="ab" style="left:218px;top:155px;width:58px;height:30px;background:#ececec;border-radius:2px;box-shadow:1px 1.5px 1px #bdbdbd"></div><div class="ab" style="left:224px;top:159px;width:20px;height:20px;border:1px solid #8a8a8a;background:#eeeeee"></div><div class="ab" style="left:248px;top:159px;width:20px;height:20px;border:1px solid #8a8a8a;background:#eeeeee"></div><svg class="ab" style="left:224px;top:159px" width="46" height="22"><path d="M4,18 L10,12" stroke="#e89a40" stroke-width="2.4" stroke-linecap="round"/><circle cx="13.5" cy="8.5" r="5" fill="#d8e6ff" stroke="#8ab0ee" stroke-width="1"/><path d="M10.5,8.5 H16.5 M13.5,5.5 V11.5" stroke="#1a2ab0" stroke-width="2"/><path d="M28,18 L34,12" stroke="#e89a40" stroke-width="2.4" stroke-linecap="round"/><circle cx="37.5" cy="8.5" r="5" fill="#d8e6ff" stroke="#8ab0ee" stroke-width="1"/><path d="M34.5,8.5 H40.5" stroke="#1a2ab0" stroke-width="2"/></svg><div class="ab" style="left:207px;top:429px;width:543px;height:87px;border:3px solid #ff1a10;border-radius:4px"></div><div class="t" style="left:302.5px;top:433.15px;width:100px;text-align:center;font-size:12px;color:#65748a;line-height:16px;transform:scaleX(0.92);transform-origin:50% 0;text-decoration:underline">Low</div><div class="t" style="left:495.29999999999995px;top:433.15px;width:100px;text-align:center;font-size:12px;color:#65748a;line-height:16px;transform:scaleX(0.92);transform-origin:50% 0;text-decoration:underline">Mid</div><div class="t" style="left:668.9px;top:433.15px;width:100px;text-align:center;font-size:12px;color:#65748a;line-height:16px;transform:scaleX(0.92);transform-origin:50% 0;text-decoration:underline">High</div><div class="t" style="left:424.7px;top:452px;width:100px;text-align:center;font-size:9px;color:#65748a;line-height:13px;">Low</div><div class="t" style="left:552.6px;top:452px;width:100px;text-align:center;font-size:9px;color:#65748a;line-height:13px;">High</div><div class="t" style="left:215.5px;top:467.65px;font-size:12px;color:#65748a;line-height:16px;transform:scaleX(0.92);transform-origin:0 0;">Corner Frequency</div><div class="t" style="left:216px;top:497.65px;font-size:12px;color:#65748a;line-height:16px;transform:scaleX(0.92);transform-origin:0 0;">Gain</div><div class="t" style="left:216px;top:528.65px;font-size:12px;color:#65748a;line-height:16px;transform:scaleX(0.92);transform-origin:0 0;letter-spacing:0.4px">Filter Type</div><div class="t" style="left:216px;top:560.15px;font-size:12px;color:#65748a;line-height:16px;transform:scaleX(0.92);transform-origin:0 0;">Polarity</div><div class="t" style="left:216px;top:591.65px;font-size:12px;color:#65748a;line-height:16px;transform:scaleX(0.92);transform-origin:0 0;">Link Enable</div><svg class="ab" style="left:312.2px;top:465.95px" width="23" height="20.5" viewBox="-11.5 -10.25 23 20.5"><ellipse cx="0" cy="0" rx="10.0" ry="8.75" fill="#6792ea" stroke="#1c24a0" stroke-width="1.3"/><path d="M0,-6.2 L4.2,-2.1 L1.6,-2.1 L1.6,2.1 L4.2,2.1 L0,6.3 L-4.2,2.1 L-1.6,2.1 L-1.6,-2.1 L-4.2,-2.1 Z" fill="url(#sg)" stroke="#111" stroke-width="1.2" stroke-linejoin="miter"/></svg>
<div class="vb" style="left:335.2px;top:467.2px;width:42.5px;height:17.5px;line-height:17.5px;font-size:9px">180</div>
<svg class="ab" style="left:440.4px;top:465.95px" width="23" height="20.5" viewBox="-11.5 -10.25 23 20.5"><ellipse cx="0" cy="0" rx="10.0" ry="8.75" fill="#6792ea" stroke="#1c24a0" stroke-width="1.3"/><path d="M0,-6.2 L4.2,-2.1 L1.6,-2.1 L1.6,2.1 L4.2,2.1 L0,6.3 L-4.2,2.1 L-1.6,2.1 L-1.6,-2.1 L-4.2,-2.1 Z" fill="url(#sg)" stroke="#111" stroke-width="1.2" stroke-linejoin="miter"/></svg>
<div class="vb" style="left:463.4px;top:467.2px;width:42.5px;height:17.5px;line-height:17.5px;font-size:9px">180</div>
<svg class="ab" style="left:566.2px;top:465.95px" width="23" height="20.5" viewBox="-11.5 -10.25 23 20.5"><ellipse cx="0" cy="0" rx="10.0" ry="8.75" fill="#6792ea" stroke="#1c24a0" stroke-width="1.3"/><path d="M0,-6.2 L4.2,-2.1 L1.6,-2.1 L1.6,2.1 L4.2,2.1 L0,6.3 L-4.2,2.1 L-1.6,2.1 L-1.6,-2.1 L-4.2,-2.1 Z" fill="url(#sg)" stroke="#111" stroke-width="1.2" stroke-linejoin="miter"/></svg>
<div class="vb" style="left:589.3px;top:467.2px;width:42.5px;height:17.5px;line-height:17.5px;font-size:9px">3000</div>
<svg class="ab" style="left:678.3px;top:465.95px" width="23" height="20.5" viewBox="-11.5 -10.25 23 20.5"><ellipse cx="0" cy="0" rx="10.0" ry="8.75" fill="#6792ea" stroke="#1c24a0" stroke-width="1.3"/><path d="M0,-6.2 L4.2,-2.1 L1.6,-2.1 L1.6,2.1 L4.2,2.1 L0,6.3 L-4.2,2.1 L-1.6,2.1 L-1.6,-2.1 L-4.2,-2.1 Z" fill="url(#sg)" stroke="#111" stroke-width="1.2" stroke-linejoin="miter"/></svg>
<div class="vb" style="left:701.6px;top:467.2px;width:42.5px;height:17.5px;line-height:17.5px;font-size:9px">3000</div>
<svg class="ab" style="left:312.2px;top:495.95px" width="23" height="20.5" viewBox="-11.5 -10.25 23 20.5"><ellipse cx="0" cy="0" rx="10.0" ry="8.75" fill="#6792ea" stroke="#1c24a0" stroke-width="1.3"/><path d="M0,-6.2 L4.2,-2.1 L1.6,-2.1 L1.6,2.1 L4.2,2.1 L0,6.3 L-4.2,2.1 L-1.6,2.1 L-1.6,-2.1 L-4.2,-2.1 Z" fill="url(#sg)" stroke="#111" stroke-width="1.2" stroke-linejoin="miter"/></svg>
<div class="vb" style="left:335.2px;top:497.2px;width:42.5px;height:17.5px;line-height:17.5px;font-size:9px">6</div>
<svg class="ab" style="left:505.29999999999995px;top:495.95px" width="23" height="20.5" viewBox="-11.5 -10.25 23 20.5"><ellipse cx="0" cy="0" rx="10.0" ry="8.75" fill="#6792ea" stroke="#1c24a0" stroke-width="1.3"/><path d="M0,-6.2 L4.2,-2.1 L1.6,-2.1 L1.6,2.1 L4.2,2.1 L0,6.3 L-4.2,2.1 L-1.6,2.1 L-1.6,-2.1 L-4.2,-2.1 Z" fill="url(#sg)" stroke="#111" stroke-width="1.2" stroke-linejoin="miter"/></svg>
<div class="vb" style="left:528.3px;top:497.2px;width:42.5px;height:17.5px;line-height:17.5px;font-size:9px">0</div>
<svg class="ab" style="left:678.3px;top:495.95px" width="23" height="20.5" viewBox="-11.5 -10.25 23 20.5"><ellipse cx="0" cy="0" rx="10.0" ry="8.75" fill="#6792ea" stroke="#1c24a0" stroke-width="1.3"/><path d="M0,-6.2 L4.2,-2.1 L1.6,-2.1 L1.6,2.1 L4.2,2.1 L0,6.3 L-4.2,2.1 L-1.6,2.1 L-1.6,-2.1 L-4.2,-2.1 Z" fill="url(#sg)" stroke="#111" stroke-width="1.2" stroke-linejoin="miter"/></svg>
<div class="vb" style="left:701.6px;top:497.2px;width:42.5px;height:17.5px;line-height:17.5px;font-size:9px">0</div>
<div class="dd" style="left:312px;top:527px;width:101px;height:18.5px;background:#fff;border:1px solid #7a7a7a"><span style="position:absolute;left:3px;top:1px;line-height:16.5px;font-size:10.5px;font-weight:normal;color:#65748a">Linkwitz-Riley 48</span><svg style="position:absolute;right:4px;top:6.75px" width="10" height="6"><path d="M0.5,0.5 L5.0,5 L9.5,0.5" fill="none" stroke="#444" stroke-width="1.1"/></svg></div>
<div class="dd" style="left:432px;top:527px;width:101px;height:18.5px;background:#fff;border:1px solid #7a7a7a"><span style="position:absolute;left:3px;top:1px;line-height:16.5px;font-size:10.5px;font-weight:normal;color:#65748a">Linkwitz-Riley 48</span><svg style="position:absolute;right:4px;top:6.75px" width="10" height="6"><path d="M0.5,0.5 L5.0,5 L9.5,0.5" fill="none" stroke="#444" stroke-width="1.1"/></svg></div>
<div class="dd" style="left:559px;top:527px;width:101px;height:18.5px;background:#fff;border:1px solid #7a7a7a"><span style="position:absolute;left:3px;top:1px;line-height:16.5px;font-size:10.5px;font-weight:normal;color:#65748a">Linkwitz-Riley 48</span><svg style="position:absolute;right:4px;top:6.75px" width="10" height="6"><path d="M0.5,0.5 L5.0,5 L9.5,0.5" fill="none" stroke="#444" stroke-width="1.1"/></svg></div>
<div class="dd" style="left:678px;top:527px;width:101px;height:18.5px;background:#fff;border:1px solid #7a7a7a"><span style="position:absolute;left:3px;top:1px;line-height:16.5px;font-size:10.5px;font-weight:normal;color:#65748a">Linkwitz-Riley 48</span><svg style="position:absolute;right:4px;top:6.75px" width="10" height="6"><path d="M0.5,0.5 L5.0,5 L9.5,0.5" fill="none" stroke="#444" stroke-width="1.1"/></svg></div>
<svg class="ab" style="left:314px;top:563px" width="13" height="13"><rect x="0.5" y="0.5" width="12" height="12" fill="#fff" stroke="#333" stroke-width="1"/></svg>
<svg class="ab" style="left:685px;top:564px" width="13" height="13"><rect x="0.5" y="0.5" width="12" height="12" fill="#fff" stroke="#333" stroke-width="1"/></svg>
<svg class="ab" style="left:314px;top:595px" width="13" height="13"><rect x="0.5" y="0.5" width="12" height="12" fill="#fff" stroke="#333" stroke-width="1"/></svg>
<svg class="ab" style="left:685px;top:595px" width="13" height="13"><rect x="0.5" y="0.5" width="12" height="12" fill="#fff" stroke="#333" stroke-width="1"/></svg><div class="t" style="left:331.3px;top:560.65px;font-size:12px;color:#65748a;line-height:16px;transform:scaleX(0.92);transform-origin:0 0;">Invert</div><div class="t" style="left:702.3px;top:561.65px;font-size:12px;color:#65748a;line-height:16px;transform:scaleX(0.92);transform-origin:0 0;">Invert</div><div class="t" style="left:331.3px;top:592.15px;font-size:12px;color:#65748a;line-height:16px;transform:scaleX(0.92);transform-origin:0 0;">Low-Mid</div><div class="t" style="left:702.3px;top:592.15px;font-size:12px;color:#65748a;line-height:16px;transform:scaleX(0.92);transform-origin:0 0;">Mid-High</div>
</body></html>
